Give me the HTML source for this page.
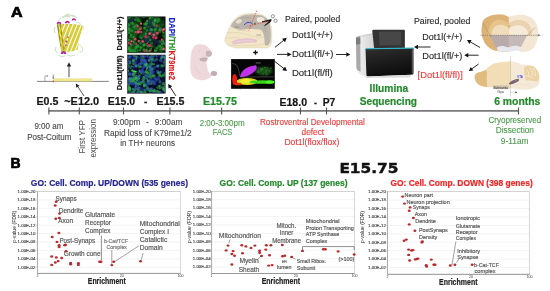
<!DOCTYPE html>
<html><head><meta charset="utf-8"><style>
html,body{margin:0;padding:0;background:#fff;}
svg{display:block;font-family:'Liberation Sans', Arial, sans-serif;}
</style></head><body>
<svg width="550" height="291" viewBox="0 0 550 291">
<rect width="550" height="291" fill="#fff"/>
<defs>
<filter id="bl" x="-5%" y="-5%" width="110%" height="110%"><feGaussianBlur stdDeviation="0.45"/></filter>
<filter id="bl2" x="-20%" y="-20%" width="140%" height="140%"><feGaussianBlur stdDeviation="1.2"/></filter>
<filter id="bl3" x="-20%" y="-20%" width="140%" height="140%"><feGaussianBlur stdDeviation="0.7"/></filter>
<clipPath id="cm1"><rect x="127.6" y="16.8" width="37.6" height="36.0"/></clipPath>
<clipPath id="cm2"><rect x="127.6" y="55.0" width="37.6" height="38.2"/></clipPath>
<clipPath id="cfl"><rect x="231.4" y="59.2" width="43" height="29.2"/></clipPath>
<linearGradient id="seqf" x1="0" y1="0" x2="0.3" y2="1"><stop offset="0" stop-color="#303030"/><stop offset="0.6" stop-color="#1a1a1a"/><stop offset="1" stop-color="#0e0e0e"/></linearGradient>
<linearGradient id="seqs" x1="0" y1="0" x2="1" y2="0"><stop offset="0" stop-color="#f4f4f4"/><stop offset="1" stop-color="#d0d0d0"/></linearGradient>
</defs>
<line x1="36.9" y1="81.4" x2="108.8" y2="81.4" stroke="#666" stroke-width="0.8"/>
<rect x="53.6" y="78.6" width="38.4" height="2.6" fill="#f0e68a" stroke="#e6dc9a" stroke-width="0.3"/>
<path d="M44.9,81.1 V76.0 H47.4" fill="none" stroke="#888" stroke-width="0.7"/>
<polygon points="48.4,76 46.9,75 46.9,77" fill="#888"/>
<line x1="53.2" y1="74.3" x2="53.2" y2="77.8" stroke="#333" stroke-width="0.5"/>
<polygon points="53.2,79 52.4,77.4 54,77.4" fill="#222"/>
<circle cx="53.3" cy="81.4" r="0.8" fill="#c04050"/>
<g><clipPath id="cgfp"><path d="M56.6,24.2 C63,23.2 74,23.8 83,25.4 L80,36 L77.6,49.8 C72,51.5 66,52.5 61.7,52.6 C59.8,44 58,34 56.6,24.2 Z"/></clipPath><path d="M58,22 q2,-5 6,-5 q3,-2 6,0" fill="none" stroke="#b8d8b0" stroke-width="0.75"/><path d="M62,17 q4,-3 8,-1 q3,-2 5,1" fill="none" stroke="#b8d8b0" stroke-width="0.75"/><path d="M66,14.5 q3,-1 5,1" fill="none" stroke="#b8d8b0" stroke-width="0.75"/><path d="M72,16 q3,-1 5,2" fill="none" stroke="#b8d8b0" stroke-width="0.75"/><path d="M76,22 q4,0 5,3" fill="none" stroke="#b8d8b0" stroke-width="0.75"/><path d="M55,27 q-2,3 0,6" fill="none" stroke="#b8d8b0" stroke-width="0.75"/><path d="M58,55 q3,3 7,1" fill="none" stroke="#b8d8b0" stroke-width="0.75"/><path d="M67,55 q4,2 8,0" fill="none" stroke="#b8d8b0" stroke-width="0.75"/><path d="M79.4,45 q4,2 3,6 q-1,2 -3,1" fill="none" stroke="#b8d8b0" stroke-width="0.75"/><path d="M56,47 q-2,3 1,6" fill="none" stroke="#b8d8b0" stroke-width="0.75"/><path d="M82,26 q2,1 1,4" fill="none" stroke="#b8d8b0" stroke-width="0.75"/><g clip-path="url(#cgfp)"><rect x="55" y="22" width="30" height="32" fill="#fcfbf2"/><path d="M56.6,24 l1.7,0 l4.6,29 l-1.7,0 Z" fill="#9c8e22"/><path d="M59.2,24 l1.7,0 l4.6,29 l-1.7,0 Z" fill="#9c8e22"/><path d="M50.5,53 l2.1,0 l11.5,-29 l-2.1,0 Z" fill="#e2d61e" stroke="#a39616" stroke-width="0.35"/><path d="M54.6,53 l2.1,0 l11.5,-29 l-2.1,0 Z" fill="#e2d61e" stroke="#a39616" stroke-width="0.35"/><path d="M58.7,53 l2.1,0 l11.5,-29 l-2.1,0 Z" fill="#e2d61e" stroke="#a39616" stroke-width="0.35"/><path d="M62.8,53 l2.1,0 l11.5,-29 l-2.1,0 Z" fill="#e2d61e" stroke="#a39616" stroke-width="0.35"/><path d="M66.9,53 l2.1,0 l11.5,-29 l-2.1,0 Z" fill="#e2d61e" stroke="#a39616" stroke-width="0.35"/><path d="M71.0,53 l2.1,0 l11.5,-29 l-2.1,0 Z" fill="#e2d61e" stroke="#a39616" stroke-width="0.35"/><path d="M75.1,53 l2.1,0 l11.5,-29 l-2.1,0 Z" fill="#e2d61e" stroke="#a39616" stroke-width="0.35"/><path d="M79.2,53 l2.1,0 l11.5,-29 l-2.1,0 Z" fill="#e2d61e" stroke="#a39616" stroke-width="0.35"/></g><path d="M57.5,24.0 a1.5,1.5 0 1,1 3.0,0" fill="none" stroke="#b020a0" stroke-width="1.65"/><path d="M65.7,23.2 a1.6,1.6 0 1,1 3.2,0" fill="none" stroke="#b020a0" stroke-width="1.76"/><path d="M72.4,20.4 a1.4,1.4 0 1,1 2.8,0" fill="none" stroke="#b020a0" stroke-width="1.54"/><path d="M61.9,54.0 a1.7,1.7 0 1,1 3.4,0" fill="none" stroke="#b020a0" stroke-width="1.87"/><circle cx="66.4" cy="41.5" r="0.9" fill="#b020a0"/><circle cx="68.0" cy="37.2" r="0.8" fill="#b020a0"/><circle cx="65.8" cy="45.2" r="0.8" fill="#b020a0"/><circle cx="67.5" cy="34.8" r="0.6" fill="#40c0c8"/></g>
<g clip-path="url(#cm1)"><rect x="127.6" y="16.8" width="37.6" height="36.0" fill="#08120a"/><g filter="url(#bl2)"><circle cx="144.5" cy="37.3" r="3.8" fill="#1d7a26" opacity="0.45"/><circle cx="145.1" cy="35.3" r="3.2" fill="#1d7a26" opacity="0.45"/><circle cx="133.6" cy="35.5" r="3.3" fill="#1d7a26" opacity="0.45"/><circle cx="158.5" cy="19.6" r="2.6" fill="#1d7a26" opacity="0.45"/><circle cx="129.7" cy="46.8" r="3.4" fill="#1d7a26" opacity="0.45"/><circle cx="127.7" cy="53.3" r="3.9" fill="#1d7a26" opacity="0.45"/><circle cx="152.8" cy="39.4" r="2.3" fill="#1d7a26" opacity="0.45"/><circle cx="126.6" cy="36.1" r="2.1" fill="#1d7a26" opacity="0.45"/><circle cx="133.8" cy="25.2" r="2.1" fill="#1d7a26" opacity="0.45"/><circle cx="145.0" cy="32.7" r="3.7" fill="#1d7a26" opacity="0.45"/><circle cx="147.3" cy="40.3" r="3.0" fill="#1d7a26" opacity="0.45"/><circle cx="153.2" cy="33.4" r="2.6" fill="#1d7a26" opacity="0.45"/><circle cx="166.9" cy="53.8" r="3.7" fill="#1d7a26" opacity="0.45"/><circle cx="155.0" cy="28.0" r="2.5" fill="#1d7a26" opacity="0.45"/><circle cx="137.9" cy="18.7" r="3.5" fill="#1d7a26" opacity="0.45"/><circle cx="142.4" cy="48.2" r="2.8" fill="#1d7a26" opacity="0.45"/><circle cx="165.3" cy="48.2" r="2.0" fill="#1d7a26" opacity="0.45"/><circle cx="134.6" cy="50.6" r="2.9" fill="#1d7a26" opacity="0.45"/><circle cx="166.2" cy="31.1" r="2.1" fill="#1d7a26" opacity="0.45"/><circle cx="151.8" cy="45.6" r="2.5" fill="#1d7a26" opacity="0.45"/><circle cx="129.6" cy="28.6" r="3.9" fill="#1d7a26" opacity="0.45"/><circle cx="157.1" cy="20.5" r="2.5" fill="#1d7a26" opacity="0.45"/><circle cx="130.1" cy="18.3" r="3.6" fill="#1d7a26" opacity="0.45"/><circle cx="133.3" cy="37.3" r="2.9" fill="#1d7a26" opacity="0.45"/><circle cx="133.8" cy="43.8" r="2.3" fill="#1d7a26" opacity="0.45"/><circle cx="152.4" cy="20.4" r="2.8" fill="#1d7a26" opacity="0.45"/><circle cx="134.7" cy="26.3" r="3.9" fill="#1d7a26" opacity="0.45"/><circle cx="158.9" cy="27.6" r="3.8" fill="#1d7a26" opacity="0.45"/><circle cx="134.6" cy="31.0" r="3.7" fill="#1d7a26" opacity="0.45"/><circle cx="152.3" cy="19.8" r="4.0" fill="#1d7a26" opacity="0.45"/><circle cx="134.7" cy="25.8" r="3.5" fill="#1d7a26" opacity="0.45"/><circle cx="139.5" cy="27.3" r="2.1" fill="#1d7a26" opacity="0.45"/><circle cx="129.7" cy="38.1" r="2.5" fill="#1d7a26" opacity="0.45"/><circle cx="150.7" cy="30.1" r="2.9" fill="#1d7a26" opacity="0.45"/><circle cx="165.3" cy="34.4" r="3.1" fill="#1d7a26" opacity="0.45"/><circle cx="161.5" cy="22.9" r="2.3" fill="#1d7a26" opacity="0.45"/><circle cx="163.2" cy="47.1" r="2.5" fill="#1d7a26" opacity="0.45"/><circle cx="133.8" cy="44.1" r="3.9" fill="#1d7a26" opacity="0.45"/><circle cx="134.1" cy="52.1" r="3.8" fill="#1d7a26" opacity="0.45"/><circle cx="150.7" cy="32.0" r="2.2" fill="#1d7a26" opacity="0.45"/></g><g filter="url(#bl)"><circle cx="131.3" cy="44.1" r="1.9" fill="#1c2060" opacity="0.55"/><circle cx="153.3" cy="26.4" r="2.7" fill="#1c2060" opacity="0.55"/><circle cx="149.7" cy="27.3" r="1.8" fill="#1c2060" opacity="0.55"/><circle cx="153.8" cy="21.7" r="1.8" fill="#1c2060" opacity="0.55"/><circle cx="148.5" cy="41.3" r="2.4" fill="#1c2060" opacity="0.55"/><circle cx="139.2" cy="42.9" r="1.8" fill="#1c2060" opacity="0.55"/><circle cx="130.5" cy="26.7" r="2.2" fill="#1c2060" opacity="0.55"/><circle cx="132.0" cy="24.4" r="2.1" fill="#1c2060" opacity="0.55"/><circle cx="148.9" cy="23.3" r="2.0" fill="#1c2060" opacity="0.55"/><circle cx="159.4" cy="44.5" r="2.5" fill="#1c2060" opacity="0.55"/><circle cx="152.8" cy="34.6" r="1.7" fill="#1c2060" opacity="0.55"/><circle cx="131.2" cy="20.4" r="2.9" fill="#1c2060" opacity="0.55"/><circle cx="153.1" cy="44.1" r="1.5" fill="#1c2060" opacity="0.55"/><circle cx="151.0" cy="32.1" r="2.6" fill="#1c2060" opacity="0.55"/><circle cx="140.5" cy="45.0" r="1.6" fill="#1c2060" opacity="0.55"/><circle cx="148.0" cy="38.4" r="2.9" fill="#1c2060" opacity="0.55"/><circle cx="154.3" cy="37.6" r="2.7" fill="#1c2060" opacity="0.55"/><circle cx="160.2" cy="28.8" r="2.5" fill="#1c2060" opacity="0.55"/><circle cx="159.7" cy="41.8" r="2.1" fill="#1c2060" opacity="0.55"/><circle cx="156.1" cy="41.6" r="2.4" fill="#1c2060" opacity="0.55"/><circle cx="150.6" cy="29.6" r="2.4" fill="#1c2060" opacity="0.55"/><circle cx="150.1" cy="22.0" r="2.5" fill="#1c2060" opacity="0.55"/><circle cx="162.8" cy="42.0" r="2.6" fill="#1c2060" opacity="0.55"/><circle cx="142.8" cy="38.4" r="2.4" fill="#1c2060" opacity="0.55"/><circle cx="144.5" cy="41.0" r="1.6" fill="#1c2060" opacity="0.55"/><circle cx="154.8" cy="20.7" r="2.4" fill="#1c2060" opacity="0.55"/><circle cx="145.9" cy="25.8" r="2.5" fill="#1c2060" opacity="0.55"/><circle cx="146.4" cy="35.4" r="2.9" fill="#1c2060" opacity="0.55"/><circle cx="138.4" cy="20.3" r="2.0" fill="#1c2060" opacity="0.55"/><circle cx="152.4" cy="25.1" r="1.8" fill="#1c2060" opacity="0.55"/><circle cx="163.1" cy="41.1" r="1.1" fill="#2a9e34" opacity="0.70"/><circle cx="134.1" cy="32.4" r="1.1" fill="#1b6e22" opacity="0.66"/><circle cx="139.0" cy="21.2" r="1.5" fill="#2a9e34" opacity="0.83"/><circle cx="137.3" cy="22.4" r="1.7" fill="#0e3a12" opacity="0.77"/><circle cx="141.7" cy="35.8" r="1.6" fill="#124a16" opacity="0.68"/><circle cx="139.1" cy="47.5" r="0.7" fill="#124a16" opacity="0.72"/><circle cx="149.4" cy="27.7" r="1.1" fill="#175c1c" opacity="0.49"/><circle cx="157.5" cy="26.1" r="1.8" fill="#1b6e22" opacity="0.45"/><circle cx="130.5" cy="36.3" r="0.9" fill="#124a16" opacity="0.61"/><circle cx="133.3" cy="16.4" r="1.0" fill="#2a9e34" opacity="0.56"/><circle cx="154.6" cy="35.8" r="1.7" fill="#23902c" opacity="0.44"/><circle cx="164.2" cy="43.5" r="1.4" fill="#2a9e34" opacity="0.81"/><circle cx="141.4" cy="37.6" r="1.8" fill="#23902c" opacity="0.44"/><circle cx="161.5" cy="46.3" r="1.8" fill="#30b03a" opacity="0.84"/><circle cx="148.0" cy="46.0" r="1.6" fill="#23902c" opacity="0.56"/><circle cx="129.4" cy="32.8" r="0.9" fill="#2a9e34" opacity="0.79"/><circle cx="143.6" cy="17.3" r="1.2" fill="#124a16" opacity="0.85"/><circle cx="162.9" cy="35.7" r="0.8" fill="#23902c" opacity="0.50"/><circle cx="147.6" cy="27.0" r="1.6" fill="#1b6e22" opacity="0.65"/><circle cx="138.8" cy="30.5" r="1.8" fill="#2a9e34" opacity="0.64"/><circle cx="149.5" cy="23.6" r="1.4" fill="#175c1c" opacity="0.41"/><circle cx="165.7" cy="35.6" r="0.8" fill="#0e3a12" opacity="0.44"/><circle cx="132.8" cy="51.4" r="1.0" fill="#30b03a" opacity="0.61"/><circle cx="131.2" cy="32.5" r="0.8" fill="#0e3a12" opacity="0.59"/><circle cx="127.2" cy="25.9" r="0.9" fill="#2a9e34" opacity="0.71"/><circle cx="139.2" cy="29.5" r="1.3" fill="#23902c" opacity="0.78"/><circle cx="151.6" cy="43.3" r="1.2" fill="#23902c" opacity="0.64"/><circle cx="132.5" cy="23.8" r="1.6" fill="#1b6e22" opacity="0.68"/><circle cx="161.1" cy="24.8" r="1.0" fill="#124a16" opacity="0.54"/><circle cx="163.8" cy="24.3" r="0.8" fill="#2a9e34" opacity="0.44"/><circle cx="141.9" cy="32.5" r="1.5" fill="#0e3a12" opacity="0.49"/><circle cx="151.7" cy="46.4" r="1.1" fill="#23902c" opacity="0.77"/><circle cx="140.8" cy="42.8" r="1.6" fill="#23902c" opacity="0.76"/><circle cx="145.8" cy="16.9" r="0.8" fill="#2a9e34" opacity="0.48"/><circle cx="132.5" cy="26.8" r="0.8" fill="#175c1c" opacity="0.71"/><circle cx="129.2" cy="19.7" r="1.2" fill="#0e3a12" opacity="0.67"/><circle cx="126.5" cy="42.6" r="1.1" fill="#30b03a" opacity="0.57"/><circle cx="163.8" cy="39.0" r="1.1" fill="#2a9e34" opacity="0.44"/><circle cx="160.5" cy="49.3" r="1.3" fill="#2a9e34" opacity="0.84"/><circle cx="159.0" cy="25.8" r="1.6" fill="#175c1c" opacity="0.77"/><circle cx="142.6" cy="50.1" r="1.1" fill="#124a16" opacity="0.73"/><circle cx="128.9" cy="29.0" r="1.8" fill="#30b03a" opacity="0.81"/><circle cx="128.0" cy="26.4" r="1.1" fill="#23902c" opacity="0.48"/><circle cx="129.2" cy="35.6" r="1.5" fill="#0e3a12" opacity="0.84"/><circle cx="126.9" cy="39.4" r="1.3" fill="#30b03a" opacity="0.74"/><circle cx="152.6" cy="16.4" r="1.3" fill="#30b03a" opacity="0.63"/><circle cx="165.7" cy="37.6" r="0.8" fill="#175c1c" opacity="0.67"/><circle cx="157.1" cy="17.7" r="1.6" fill="#1b6e22" opacity="0.64"/><circle cx="150.5" cy="32.3" r="1.1" fill="#23902c" opacity="0.54"/><circle cx="147.7" cy="34.4" r="1.0" fill="#124a16" opacity="0.72"/><circle cx="138.1" cy="16.5" r="1.1" fill="#1b6e22" opacity="0.71"/><circle cx="128.2" cy="28.0" r="1.7" fill="#23902c" opacity="0.43"/><circle cx="163.1" cy="32.3" r="0.7" fill="#2a9e34" opacity="0.44"/><circle cx="159.2" cy="50.6" r="1.4" fill="#1b6e22" opacity="0.45"/><circle cx="151.6" cy="33.3" r="1.1" fill="#1b6e22" opacity="0.47"/><circle cx="140.9" cy="21.3" r="1.0" fill="#0e3a12" opacity="0.66"/><circle cx="143.2" cy="45.6" r="1.5" fill="#1b6e22" opacity="0.51"/><circle cx="130.7" cy="49.9" r="1.5" fill="#23902c" opacity="0.65"/><circle cx="150.3" cy="40.1" r="1.3" fill="#2a9e34" opacity="0.69"/><circle cx="134.0" cy="42.0" r="1.2" fill="#30b03a" opacity="0.68"/><circle cx="130.2" cy="36.6" r="0.9" fill="#175c1c" opacity="0.51"/><circle cx="166.2" cy="34.4" r="1.2" fill="#30b03a" opacity="0.46"/><circle cx="161.7" cy="46.5" r="1.4" fill="#0e3a12" opacity="0.75"/><circle cx="134.7" cy="32.1" r="1.1" fill="#2a9e34" opacity="0.69"/><circle cx="166.6" cy="28.4" r="1.3" fill="#30b03a" opacity="0.61"/><circle cx="139.3" cy="36.7" r="1.2" fill="#0e3a12" opacity="0.71"/><circle cx="138.3" cy="45.5" r="1.4" fill="#23902c" opacity="0.71"/><circle cx="146.3" cy="45.0" r="0.9" fill="#2a9e34" opacity="0.70"/><circle cx="139.4" cy="50.4" r="1.7" fill="#124a16" opacity="0.82"/><circle cx="163.4" cy="32.6" r="1.1" fill="#2a9e34" opacity="0.82"/><circle cx="162.7" cy="25.4" r="1.1" fill="#23902c" opacity="0.57"/><circle cx="134.0" cy="37.4" r="1.3" fill="#23902c" opacity="0.48"/><circle cx="157.1" cy="49.5" r="0.9" fill="#124a16" opacity="0.43"/><circle cx="132.5" cy="27.2" r="1.6" fill="#175c1c" opacity="0.43"/><circle cx="148.4" cy="45.9" r="1.5" fill="#30b03a" opacity="0.80"/><circle cx="129.5" cy="40.1" r="1.2" fill="#23902c" opacity="0.72"/><circle cx="146.0" cy="50.5" r="1.6" fill="#30b03a" opacity="0.55"/><circle cx="131.6" cy="34.5" r="1.7" fill="#175c1c" opacity="0.58"/><circle cx="159.9" cy="41.3" r="1.6" fill="#175c1c" opacity="0.80"/><circle cx="165.3" cy="40.3" r="1.2" fill="#124a16" opacity="0.59"/><circle cx="132.0" cy="44.2" r="1.1" fill="#0e3a12" opacity="0.58"/><circle cx="147.7" cy="26.4" r="1.5" fill="#175c1c" opacity="0.54"/><circle cx="132.4" cy="50.9" r="1.7" fill="#30b03a" opacity="0.42"/><circle cx="130.5" cy="23.0" r="1.2" fill="#1b6e22" opacity="0.63"/><circle cx="144.1" cy="50.0" r="1.4" fill="#30b03a" opacity="0.82"/><circle cx="148.6" cy="48.4" r="1.7" fill="#0e3a12" opacity="0.55"/><circle cx="148.4" cy="52.4" r="1.7" fill="#2a9e34" opacity="0.76"/><circle cx="141.8" cy="36.0" r="0.8" fill="#124a16" opacity="0.82"/><circle cx="162.6" cy="49.2" r="1.5" fill="#2a9e34" opacity="0.67"/><circle cx="132.4" cy="22.0" r="0.8" fill="#23902c" opacity="0.73"/><circle cx="151.4" cy="35.6" r="0.7" fill="#2a9e34" opacity="0.77"/><circle cx="160.7" cy="47.2" r="1.5" fill="#23902c" opacity="0.44"/><circle cx="145.7" cy="33.8" r="1.2" fill="#2a9e34" opacity="0.81"/><circle cx="129.7" cy="47.4" r="1.3" fill="#30b03a" opacity="0.47"/><circle cx="160.1" cy="27.8" r="1.0" fill="#23902c" opacity="0.61"/><circle cx="155.3" cy="29.7" r="1.4" fill="#30b03a" opacity="0.74"/><circle cx="158.2" cy="20.6" r="1.5" fill="#30b03a" opacity="0.61"/><circle cx="138.0" cy="20.3" r="1.6" fill="#175c1c" opacity="0.72"/><circle cx="163.0" cy="21.8" r="1.7" fill="#0e3a12" opacity="0.74"/><circle cx="148.8" cy="19.3" r="0.8" fill="#23902c" opacity="0.54"/><circle cx="137.2" cy="33.9" r="0.8" fill="#30b03a" opacity="0.46"/><circle cx="129.9" cy="41.8" r="0.7" fill="#30b03a" opacity="0.61"/><circle cx="154.9" cy="19.8" r="1.2" fill="#2a9e34" opacity="0.75"/><circle cx="140.0" cy="47.3" r="1.5" fill="#1b6e22" opacity="0.77"/><circle cx="141.8" cy="28.6" r="1.5" fill="#0e3a12" opacity="0.68"/><circle cx="139.0" cy="46.0" r="1.4" fill="#1b6e22" opacity="0.41"/><circle cx="139.6" cy="29.0" r="0.9" fill="#30b03a" opacity="0.55"/><circle cx="138.0" cy="19.9" r="1.7" fill="#23902c" opacity="0.65"/><circle cx="140.5" cy="35.0" r="0.9" fill="#1b6e22" opacity="0.82"/><circle cx="166.9" cy="42.9" r="1.4" fill="#2a9e34" opacity="0.49"/><circle cx="129.4" cy="25.3" r="1.0" fill="#30b03a" opacity="0.80"/><circle cx="144.5" cy="43.7" r="1.3" fill="#1b6e22" opacity="0.65"/><circle cx="149.0" cy="26.0" r="0.8" fill="#124a16" opacity="0.77"/><circle cx="137.8" cy="50.1" r="0.9" fill="#2a9e34" opacity="0.65"/><circle cx="129.1" cy="17.2" r="1.8" fill="#1b6e22" opacity="0.46"/><circle cx="157.0" cy="48.2" r="1.6" fill="#23902c" opacity="0.41"/><circle cx="134.2" cy="33.8" r="0.8" fill="#1b6e22" opacity="0.58"/><circle cx="139.8" cy="21.0" r="1.1" fill="#1b6e22" opacity="0.69"/><circle cx="127.6" cy="41.5" r="1.4" fill="#30b03a" opacity="0.61"/><circle cx="142.9" cy="39.7" r="1.2" fill="#0e3a12" opacity="0.85"/><circle cx="160.4" cy="48.5" r="0.8" fill="#0e3a12" opacity="0.45"/><circle cx="164.5" cy="28.6" r="1.1" fill="#2a9e34" opacity="0.42"/><circle cx="155.7" cy="50.2" r="1.7" fill="#30b03a" opacity="0.79"/><circle cx="136.0" cy="48.1" r="1.8" fill="#30b03a" opacity="0.61"/><circle cx="130.3" cy="50.6" r="1.7" fill="#2a9e34" opacity="0.85"/><circle cx="156.0" cy="49.1" r="1.2" fill="#124a16" opacity="0.76"/><circle cx="135.1" cy="44.4" r="0.8" fill="#175c1c" opacity="0.76"/><circle cx="131.1" cy="36.4" r="1.5" fill="#2a9e34" opacity="0.41"/><circle cx="133.1" cy="32.7" r="1.1" fill="#0e3a12" opacity="0.56"/><circle cx="150.0" cy="17.7" r="1.2" fill="#30b03a" opacity="0.82"/><circle cx="166.1" cy="34.0" r="1.7" fill="#23902c" opacity="0.49"/><circle cx="160.4" cy="29.5" r="1.7" fill="#23902c" opacity="0.85"/><circle cx="134.3" cy="40.0" r="1.8" fill="#1b6e22" opacity="0.69"/><circle cx="138.5" cy="47.1" r="1.5" fill="#124a16" opacity="0.46"/><circle cx="154.5" cy="51.6" r="0.9" fill="#2a9e34" opacity="0.54"/><circle cx="155.1" cy="23.5" r="1.3" fill="#1b6e22" opacity="0.53"/><circle cx="137.2" cy="46.5" r="1.8" fill="#2a9e34" opacity="0.80"/><circle cx="133.4" cy="24.6" r="0.8" fill="#1b6e22" opacity="0.84"/><circle cx="144.1" cy="36.1" r="1.0" fill="#23902c" opacity="0.51"/><circle cx="158.9" cy="19.3" r="1.0" fill="#2a9e34" opacity="0.65"/><circle cx="133.6" cy="50.1" r="1.1" fill="#23902c" opacity="0.82"/><circle cx="146.5" cy="22.8" r="1.6" fill="#30b03a" opacity="0.63"/><circle cx="146.7" cy="48.1" r="0.8" fill="#2a9e34" opacity="0.60"/><circle cx="153.4" cy="36.8" r="1.6" fill="#124a16" opacity="0.51"/><circle cx="146.1" cy="24.4" r="1.4" fill="#2a9e34" opacity="0.72"/><circle cx="149.5" cy="49.2" r="0.7" fill="#23902c" opacity="0.62"/><circle cx="143.8" cy="32.8" r="0.7" fill="#124a16" opacity="0.45"/><circle cx="133.3" cy="40.3" r="0.8" fill="#1b6e22" opacity="0.59"/><circle cx="154.5" cy="47.1" r="1.2" fill="#124a16" opacity="0.69"/><circle cx="146.9" cy="30.4" r="1.4" fill="#23902c" opacity="0.67"/><circle cx="144.6" cy="28.0" r="1.5" fill="#2a9e34" opacity="0.83"/><circle cx="131.3" cy="44.7" r="1.3" fill="#30b03a" opacity="0.84"/><circle cx="126.1" cy="31.6" r="1.0" fill="#23902c" opacity="0.59"/><circle cx="129.1" cy="17.3" r="1.3" fill="#2a9e34" opacity="0.51"/><circle cx="144.9" cy="51.4" r="0.9" fill="#23902c" opacity="0.47"/><circle cx="150.0" cy="53.8" r="1.7" fill="#23902c" opacity="0.48"/><circle cx="161.3" cy="51.5" r="0.9" fill="#2a9e34" opacity="0.56"/><circle cx="133.5" cy="36.9" r="0.9" fill="#30b03a" opacity="0.61"/><circle cx="138.7" cy="33.0" r="0.9" fill="#1b6e22" opacity="0.57"/><circle cx="129.0" cy="42.3" r="1.3" fill="#124a16" opacity="0.73"/><circle cx="147.0" cy="37.6" r="0.8" fill="#30b03a" opacity="0.73"/><circle cx="157.9" cy="21.2" r="1.7" fill="#1b6e22" opacity="0.41"/><circle cx="139.2" cy="30.6" r="1.1" fill="#175c1c" opacity="0.52"/><circle cx="162.0" cy="41.4" r="1.2" fill="#2a9e34" opacity="0.48"/><circle cx="147.1" cy="20.9" r="1.2" fill="#30b03a" opacity="0.71"/><circle cx="147.2" cy="36.8" r="1.4" fill="#124a16" opacity="0.47"/><circle cx="134.4" cy="26.7" r="1.3" fill="#30b03a" opacity="0.56"/><circle cx="130.2" cy="30.1" r="1.5" fill="#2a9e34" opacity="0.62"/><circle cx="126.5" cy="44.9" r="1.3" fill="#2a9e34" opacity="0.56"/><circle cx="131.0" cy="45.4" r="1.0" fill="#23902c" opacity="0.76"/><circle cx="130.9" cy="34.7" r="1.0" fill="#30b03a" opacity="0.72"/><circle cx="135.1" cy="51.2" r="1.1" fill="#2a9e34" opacity="0.72"/><circle cx="147.3" cy="44.2" r="1.2" fill="#0e3a12" opacity="0.52"/><circle cx="161.0" cy="27.7" r="0.8" fill="#175c1c" opacity="0.81"/><circle cx="163.4" cy="26.3" r="1.2" fill="#0e3a12" opacity="0.55"/><circle cx="136.4" cy="16.9" r="1.3" fill="#30b03a" opacity="0.52"/><circle cx="153.4" cy="23.1" r="1.8" fill="#30b03a" opacity="0.56"/><circle cx="149.6" cy="51.8" r="1.3" fill="#23902c" opacity="0.68"/><circle cx="128.6" cy="18.6" r="0.7" fill="#30b03a" opacity="0.46"/><circle cx="146.8" cy="27.7" r="0.7" fill="#124a16" opacity="0.67"/><circle cx="137.1" cy="25.8" r="1.7" fill="#2a9e34" opacity="0.84"/><circle cx="126.1" cy="36.8" r="1.6" fill="#175c1c" opacity="0.84"/><circle cx="139.7" cy="29.2" r="0.9" fill="#23902c" opacity="0.58"/><circle cx="132.4" cy="23.3" r="1.5" fill="#23902c" opacity="0.76"/><circle cx="138.0" cy="31.8" r="1.3" fill="#124a16" opacity="0.51"/><circle cx="136.2" cy="28.3" r="1.5" fill="#1b6e22" opacity="0.79"/><circle cx="166.6" cy="47.1" r="1.3" fill="#30b03a" opacity="0.71"/><circle cx="127.7" cy="39.6" r="1.1" fill="#30b03a" opacity="0.73"/><circle cx="154.4" cy="25.6" r="1.1" fill="#23902c" opacity="0.55"/><circle cx="157.1" cy="48.0" r="1.4" fill="#30b03a" opacity="0.46"/><circle cx="156.4" cy="26.2" r="1.4" fill="#30b03a" opacity="0.53"/><circle cx="152.7" cy="53.0" r="1.0" fill="#2a9e34" opacity="0.52"/><circle cx="136.3" cy="41.3" r="1.8" fill="#0e3a12" opacity="0.42"/><circle cx="155.2" cy="20.5" r="1.5" fill="#30b03a" opacity="0.85"/><circle cx="130.9" cy="28.5" r="1.6" fill="#175c1c" opacity="0.48"/><circle cx="128.8" cy="32.7" r="1.4" fill="#23902c" opacity="0.74"/><circle cx="166.2" cy="30.8" r="0.9" fill="#1b6e22" opacity="0.48"/><circle cx="130.4" cy="51.5" r="1.1" fill="#2a9e34" opacity="0.41"/><circle cx="149.2" cy="21.5" r="0.8" fill="#2a9e34" opacity="0.49"/><circle cx="148.6" cy="37.2" r="1.4" fill="#30b03a" opacity="0.40"/><circle cx="139.8" cy="21.3" r="1.1" fill="#1b6e22" opacity="0.41"/><circle cx="140.4" cy="37.3" r="1.4" fill="#23902c" opacity="0.68"/><circle cx="137.4" cy="51.7" r="0.8" fill="#23902c" opacity="0.79"/><circle cx="164.7" cy="36.5" r="1.5" fill="#2a9e34" opacity="0.54"/><circle cx="147.1" cy="16.4" r="0.7" fill="#30b03a" opacity="0.64"/><circle cx="159.2" cy="46.1" r="1.6" fill="#23902c" opacity="0.75"/><circle cx="166.4" cy="19.8" r="1.0" fill="#0e3a12" opacity="0.81"/><circle cx="127.0" cy="37.9" r="1.1" fill="#23902c" opacity="0.70"/><circle cx="159.2" cy="29.9" r="0.8" fill="#30b03a" opacity="0.69"/><circle cx="150.4" cy="26.1" r="0.9" fill="#1b6e22" opacity="0.73"/><circle cx="148.4" cy="41.8" r="0.9" fill="#2a9e34" opacity="0.56"/><circle cx="143.7" cy="16.4" r="1.6" fill="#23902c" opacity="0.74"/><circle cx="126.9" cy="22.6" r="1.2" fill="#30b03a" opacity="0.83"/><circle cx="135.0" cy="31.5" r="0.8" fill="#1b6e22" opacity="0.58"/><circle cx="163.8" cy="49.5" r="0.9" fill="#2a9e34" opacity="0.69"/><circle cx="141.5" cy="40.5" r="1.1" fill="#1b6e22" opacity="0.60"/><circle cx="155.3" cy="32.1" r="1.5" fill="#23902c" opacity="0.60"/><circle cx="153.3" cy="31.9" r="1.1" fill="#0e3a12" opacity="0.64"/><circle cx="127.7" cy="51.0" r="0.8" fill="#23902c" opacity="0.42"/><circle cx="139.3" cy="36.4" r="1.5" fill="#124a16" opacity="0.54"/><circle cx="156.2" cy="53.6" r="1.5" fill="#2a9e34" opacity="0.80"/><circle cx="130.6" cy="23.1" r="1.3" fill="#1b6e22" opacity="0.85"/><circle cx="128.7" cy="49.1" r="1.2" fill="#30b03a" opacity="0.64"/><circle cx="161.5" cy="23.4" r="1.0" fill="#124a16" opacity="0.45"/><circle cx="144.1" cy="44.8" r="1.6" fill="#30b03a" opacity="0.75"/><circle cx="148.5" cy="50.4" r="0.7" fill="#30b03a" opacity="0.56"/><circle cx="161.5" cy="47.7" r="1.1" fill="#23902c" opacity="0.78"/><circle cx="151.3" cy="50.3" r="0.9" fill="#23902c" opacity="0.68"/><circle cx="161.9" cy="43.7" r="1.1" fill="#30b03a" opacity="0.77"/><circle cx="154.7" cy="48.1" r="0.9" fill="#124a16" opacity="0.49"/><circle cx="157.4" cy="22.5" r="0.8" fill="#30b03a" opacity="0.82"/><circle cx="151.0" cy="29.6" r="1.5" fill="#2a9e34" opacity="0.73"/><circle cx="140.8" cy="27.8" r="1.4" fill="#2a9e34" opacity="0.59"/><circle cx="159.6" cy="31.5" r="1.7" fill="#2a9e34" opacity="0.56"/><circle cx="154.8" cy="24.9" r="1.7" fill="#30b03a" opacity="0.44"/><circle cx="152.6" cy="24.6" r="1.2" fill="#23902c" opacity="0.50"/><circle cx="152.2" cy="29.9" r="1.4" fill="#30b03a" opacity="0.52"/><circle cx="153.1" cy="16.5" r="0.8" fill="#30b03a" opacity="0.80"/><circle cx="136.3" cy="32.0" r="0.8" fill="#23902c" opacity="0.70"/><circle cx="144.6" cy="24.0" r="1.5" fill="#2a9e34" opacity="0.70"/><circle cx="140.1" cy="50.1" r="1.1" fill="#2a9e34" opacity="0.61"/><circle cx="139.0" cy="41.5" r="1.8" fill="#175c1c" opacity="0.85"/><circle cx="142.2" cy="47.5" r="0.8" fill="#175c1c" opacity="0.61"/><circle cx="142.5" cy="40.9" r="0.9" fill="#23902c" opacity="0.57"/><circle cx="131.9" cy="31.0" r="1.5" fill="#23902c" opacity="0.75"/><circle cx="163.2" cy="41.2" r="0.9" fill="#30b03a" opacity="0.57"/><circle cx="141.0" cy="47.6" r="1.3" fill="#30b03a" opacity="0.64"/><circle cx="130.6" cy="46.0" r="0.8" fill="#124a16" opacity="0.51"/><circle cx="153.2" cy="35.4" r="1.0" fill="#2a9e34" opacity="0.59"/><circle cx="128.2" cy="24.3" r="1.2" fill="#2a9e34" opacity="0.78"/><circle cx="130.3" cy="48.3" r="1.3" fill="#23902c" opacity="0.58"/><circle cx="151.1" cy="48.8" r="1.0" fill="#2a9e34" opacity="0.76"/><circle cx="130.5" cy="44.0" r="1.4" fill="#23902c" opacity="0.58"/><circle cx="146.2" cy="50.7" r="0.8" fill="#30b03a" opacity="0.52"/><circle cx="130.6" cy="50.9" r="1.7" fill="#23902c" opacity="0.66"/><circle cx="146.5" cy="50.3" r="1.5" fill="#30b03a" opacity="0.52"/><circle cx="141.1" cy="32.3" r="1.2" fill="#23902c" opacity="0.60"/><circle cx="128.0" cy="47.8" r="1.3" fill="#30b03a" opacity="0.58"/><circle cx="135.1" cy="19.8" r="1.2" fill="#30b03a" opacity="0.50"/><circle cx="156.7" cy="34.5" r="1.8" fill="#23902c" opacity="0.40"/><circle cx="149.9" cy="50.7" r="1.6" fill="#6a1a2a" opacity="0.6"/><circle cx="149.9" cy="50.7" r="1.1" fill="#d63c5e" opacity="0.96"/><circle cx="136.1" cy="43.9" r="1.4" fill="#6a1a2a" opacity="0.6"/><circle cx="136.1" cy="43.9" r="0.9" fill="#ec5a7a" opacity="0.87"/><circle cx="147.1" cy="43.6" r="1.4" fill="#6a1a2a" opacity="0.6"/><circle cx="147.1" cy="43.6" r="0.9" fill="#e24a6e" opacity="0.80"/><circle cx="149.7" cy="45.5" r="2.0" fill="#6a1a2a" opacity="0.6"/><circle cx="149.7" cy="45.5" r="1.5" fill="#d63c5e" opacity="0.85"/><circle cx="138.8" cy="41.1" r="1.5" fill="#6a1a2a" opacity="0.6"/><circle cx="138.8" cy="41.1" r="1.0" fill="#ec5a7a" opacity="0.96"/><circle cx="140.3" cy="28.8" r="1.9" fill="#6a1a2a" opacity="0.6"/><circle cx="140.3" cy="28.8" r="1.4" fill="#d63c5e" opacity="0.91"/><circle cx="130.5" cy="44.0" r="1.4" fill="#6a1a2a" opacity="0.6"/><circle cx="130.5" cy="44.0" r="0.9" fill="#e24a6e" opacity="0.89"/><circle cx="161.9" cy="39.7" r="1.4" fill="#6a1a2a" opacity="0.6"/><circle cx="161.9" cy="39.7" r="0.9" fill="#ec5a7a" opacity="0.89"/><circle cx="128.7" cy="43.1" r="1.7" fill="#6a1a2a" opacity="0.6"/><circle cx="128.7" cy="43.1" r="1.2" fill="#e24a6e" opacity="0.79"/><circle cx="131.5" cy="41.3" r="1.5" fill="#6a1a2a" opacity="0.6"/><circle cx="131.5" cy="41.3" r="1.0" fill="#f0708a" opacity="0.92"/><circle cx="157.3" cy="33.1" r="1.9" fill="#6a1a2a" opacity="0.6"/><circle cx="157.3" cy="33.1" r="1.4" fill="#e24a6e" opacity="0.96"/><circle cx="162.9" cy="30.1" r="1.9" fill="#6a1a2a" opacity="0.6"/><circle cx="162.9" cy="30.1" r="1.4" fill="#e24a6e" opacity="0.93"/><circle cx="142.8" cy="41.5" r="1.8" fill="#6a1a2a" opacity="0.6"/><circle cx="142.8" cy="41.5" r="1.3" fill="#e24a6e" opacity="0.98"/><circle cx="136.1" cy="32.1" r="1.7" fill="#6a1a2a" opacity="0.6"/><circle cx="136.1" cy="32.1" r="1.2" fill="#e24a6e" opacity="0.79"/><circle cx="138.4" cy="31.9" r="1.9" fill="#6a1a2a" opacity="0.6"/><circle cx="138.4" cy="31.9" r="1.4" fill="#f0708a" opacity="0.80"/><circle cx="153.8" cy="34.8" r="1.7" fill="#6a1a2a" opacity="0.6"/><circle cx="153.8" cy="34.8" r="1.2" fill="#f0708a" opacity="0.88"/><circle cx="145.8" cy="36.7" r="1.9" fill="#6a1a2a" opacity="0.6"/><circle cx="145.8" cy="36.7" r="1.4" fill="#d63c5e" opacity="0.80"/><circle cx="141.0" cy="23.6" r="1.6" fill="#6a1a2a" opacity="0.6"/><circle cx="141.0" cy="23.6" r="1.1" fill="#f0708a" opacity="0.86"/><circle cx="149.7" cy="33.7" r="1.9" fill="#6a1a2a" opacity="0.6"/><circle cx="149.7" cy="33.7" r="1.4" fill="#ec5a7a" opacity="0.87"/><circle cx="163.8" cy="29.2" r="1.8" fill="#6a1a2a" opacity="0.6"/><circle cx="163.8" cy="29.2" r="1.3" fill="#ec5a7a" opacity="0.91"/><circle cx="141.1" cy="32.0" r="1.4" fill="#6a1a2a" opacity="0.6"/><circle cx="141.1" cy="32.0" r="0.9" fill="#e24a6e" opacity="0.95"/><circle cx="137.7" cy="26.3" r="1.5" fill="#6a1a2a" opacity="0.6"/><circle cx="137.7" cy="26.3" r="1.0" fill="#e24a6e" opacity="0.89"/><circle cx="163.6" cy="48.9" r="1.7" fill="#6a1a2a" opacity="0.6"/><circle cx="163.6" cy="48.9" r="1.2" fill="#f0708a" opacity="0.78"/><circle cx="135.2" cy="39.1" r="1.8" fill="#6a1a2a" opacity="0.6"/><circle cx="135.2" cy="39.1" r="1.3" fill="#ec5a7a" opacity="0.76"/><circle cx="153.6" cy="37.3" r="1.7" fill="#6a1a2a" opacity="0.6"/><circle cx="153.6" cy="37.3" r="1.2" fill="#d63c5e" opacity="0.87"/><circle cx="144.6" cy="51.0" r="1.6" fill="#6a1a2a" opacity="0.6"/><circle cx="144.6" cy="51.0" r="1.1" fill="#d63c5e" opacity="0.77"/><circle cx="156.7" cy="25.4" r="1.5" fill="#6a1a2a" opacity="0.6"/><circle cx="156.7" cy="25.4" r="1.0" fill="#d63c5e" opacity="0.78"/><circle cx="156.0" cy="37.8" r="1.9" fill="#6a1a2a" opacity="0.6"/><circle cx="156.0" cy="37.8" r="1.4" fill="#d63c5e" opacity="0.92"/></g></g><rect x="127.6" y="16.8" width="37.6" height="36.0" fill="none" stroke="#111" stroke-width="0.6"/><g clip-path="url(#cm2)"><rect x="127.6" y="55.0" width="37.6" height="38.2" fill="#0a1030"/><g filter="url(#bl)"><circle cx="140.9" cy="92.0" r="1.6" fill="#2a6a9a" opacity="0.89"/><circle cx="130.5" cy="68.3" r="1.1" fill="#1f8a2c" opacity="0.72"/><circle cx="136.8" cy="57.0" r="1.0" fill="#1f8a2c" opacity="0.66"/><circle cx="159.7" cy="75.8" r="1.5" fill="#2a9a38" opacity="0.71"/><circle cx="153.1" cy="90.8" r="1.2" fill="#203096" opacity="0.81"/><circle cx="152.7" cy="75.7" r="1.5" fill="#3a8aa0" opacity="0.88"/><circle cx="146.7" cy="76.6" r="1.3" fill="#30a840" opacity="0.73"/><circle cx="164.0" cy="83.7" r="1.4" fill="#2a9a38" opacity="0.55"/><circle cx="166.5" cy="66.4" r="1.5" fill="#2838b4" opacity="0.56"/><circle cx="142.9" cy="59.7" r="1.5" fill="#2838b4" opacity="0.53"/><circle cx="154.5" cy="78.5" r="1.3" fill="#2838b4" opacity="0.53"/><circle cx="146.0" cy="76.3" r="1.1" fill="#2838b4" opacity="0.63"/><circle cx="154.8" cy="91.6" r="1.7" fill="#2e46c4" opacity="0.51"/><circle cx="146.1" cy="77.6" r="0.9" fill="#203096" opacity="0.71"/><circle cx="165.3" cy="55.3" r="0.8" fill="#1f8a2c" opacity="0.51"/><circle cx="160.0" cy="81.5" r="1.5" fill="#3a8aa0" opacity="0.53"/><circle cx="141.2" cy="92.3" r="1.2" fill="#38b848" opacity="0.63"/><circle cx="140.2" cy="54.6" r="1.2" fill="#060a14" opacity="0.79"/><circle cx="147.4" cy="68.1" r="0.9" fill="#3450bc" opacity="0.60"/><circle cx="145.6" cy="85.3" r="1.4" fill="#30a840" opacity="0.74"/><circle cx="149.5" cy="76.9" r="1.1" fill="#1f8a2c" opacity="0.63"/><circle cx="155.8" cy="81.0" r="1.6" fill="#2838b4" opacity="0.60"/><circle cx="134.9" cy="70.6" r="0.9" fill="#203096" opacity="0.53"/><circle cx="160.2" cy="94.0" r="1.6" fill="#30a840" opacity="0.65"/><circle cx="137.8" cy="77.7" r="1.7" fill="#3450bc" opacity="0.52"/><circle cx="127.3" cy="92.2" r="1.0" fill="#30a840" opacity="0.85"/><circle cx="165.4" cy="91.3" r="1.5" fill="#30a840" opacity="0.88"/><circle cx="133.9" cy="59.4" r="1.5" fill="#3450bc" opacity="0.87"/><circle cx="132.0" cy="88.8" r="0.9" fill="#203096" opacity="0.63"/><circle cx="149.9" cy="65.0" r="1.6" fill="#3a8aa0" opacity="0.60"/><circle cx="129.8" cy="80.1" r="1.7" fill="#1f8a2c" opacity="0.77"/><circle cx="133.6" cy="92.6" r="1.6" fill="#2a7a8a" opacity="0.89"/><circle cx="144.8" cy="78.1" r="0.9" fill="#060a14" opacity="0.69"/><circle cx="153.8" cy="71.6" r="0.8" fill="#2838b4" opacity="0.66"/><circle cx="159.7" cy="92.4" r="1.3" fill="#38b848" opacity="0.76"/><circle cx="145.1" cy="61.3" r="1.1" fill="#1f8a2c" opacity="0.84"/><circle cx="149.0" cy="81.5" r="0.9" fill="#1f8a2c" opacity="0.73"/><circle cx="151.1" cy="71.2" r="1.7" fill="#203096" opacity="0.59"/><circle cx="164.4" cy="88.1" r="1.4" fill="#2e46c4" opacity="0.87"/><circle cx="157.4" cy="91.4" r="1.7" fill="#38b848" opacity="0.61"/><circle cx="130.0" cy="81.5" r="1.7" fill="#2a9a38" opacity="0.71"/><circle cx="141.5" cy="54.1" r="1.6" fill="#203096" opacity="0.73"/><circle cx="128.3" cy="66.8" r="1.8" fill="#2838b4" opacity="0.61"/><circle cx="144.2" cy="57.4" r="1.2" fill="#2e46c4" opacity="0.52"/><circle cx="134.0" cy="79.3" r="1.7" fill="#1f8a2c" opacity="0.70"/><circle cx="145.8" cy="65.6" r="1.4" fill="#203096" opacity="0.78"/><circle cx="144.3" cy="66.0" r="1.6" fill="#2e46c4" opacity="0.78"/><circle cx="159.2" cy="86.1" r="1.0" fill="#38b848" opacity="0.87"/><circle cx="126.9" cy="74.5" r="1.4" fill="#38b848" opacity="0.53"/><circle cx="153.4" cy="58.4" r="1.0" fill="#3450bc" opacity="0.78"/><circle cx="157.1" cy="93.4" r="1.5" fill="#2a7a8a" opacity="0.67"/><circle cx="142.7" cy="69.8" r="1.7" fill="#2838b4" opacity="0.76"/><circle cx="146.2" cy="69.4" r="1.3" fill="#2a9a38" opacity="0.89"/><circle cx="135.5" cy="78.7" r="1.1" fill="#30a840" opacity="0.61"/><circle cx="133.7" cy="79.9" r="1.7" fill="#2838b4" opacity="0.86"/><circle cx="137.9" cy="92.1" r="1.1" fill="#2a6a9a" opacity="0.61"/><circle cx="147.4" cy="73.5" r="1.5" fill="#2a9a38" opacity="0.60"/><circle cx="134.2" cy="77.2" r="1.1" fill="#1f8a2c" opacity="0.88"/><circle cx="138.1" cy="88.4" r="1.7" fill="#3450bc" opacity="0.82"/><circle cx="163.6" cy="57.2" r="1.6" fill="#2a6a9a" opacity="0.72"/><circle cx="152.3" cy="91.5" r="1.2" fill="#203096" opacity="0.50"/><circle cx="129.6" cy="61.3" r="1.8" fill="#2e46c4" opacity="0.81"/><circle cx="150.0" cy="91.4" r="1.3" fill="#2a9a38" opacity="0.67"/><circle cx="130.4" cy="73.0" r="0.8" fill="#2838b4" opacity="0.69"/><circle cx="151.2" cy="88.7" r="1.5" fill="#3450bc" opacity="0.66"/><circle cx="152.6" cy="81.3" r="1.4" fill="#2a7a8a" opacity="0.60"/><circle cx="149.4" cy="70.1" r="1.4" fill="#38b848" opacity="0.58"/><circle cx="136.1" cy="83.7" r="1.4" fill="#203096" opacity="0.63"/><circle cx="126.9" cy="87.4" r="1.7" fill="#3450bc" opacity="0.58"/><circle cx="127.4" cy="57.7" r="1.2" fill="#30a840" opacity="0.68"/><circle cx="138.9" cy="79.0" r="0.9" fill="#1f8a2c" opacity="0.79"/><circle cx="151.6" cy="76.0" r="0.9" fill="#3450bc" opacity="0.59"/><circle cx="135.4" cy="78.2" r="1.0" fill="#3a8aa0" opacity="0.62"/><circle cx="150.6" cy="57.4" r="1.2" fill="#203096" opacity="0.84"/><circle cx="140.1" cy="71.1" r="1.2" fill="#38b848" opacity="0.90"/><circle cx="134.1" cy="90.5" r="1.6" fill="#2a9a38" opacity="0.66"/><circle cx="150.2" cy="82.5" r="1.1" fill="#203096" opacity="0.78"/><circle cx="149.0" cy="75.8" r="1.4" fill="#2e46c4" opacity="0.82"/><circle cx="146.9" cy="54.9" r="1.3" fill="#203096" opacity="0.57"/><circle cx="151.6" cy="89.7" r="1.8" fill="#2a6a9a" opacity="0.77"/><circle cx="130.0" cy="55.9" r="1.4" fill="#3a8aa0" opacity="0.88"/><circle cx="140.5" cy="84.4" r="1.0" fill="#1f8a2c" opacity="0.65"/><circle cx="134.9" cy="82.2" r="1.2" fill="#2a9a38" opacity="0.66"/><circle cx="158.3" cy="79.1" r="0.8" fill="#2e46c4" opacity="0.86"/><circle cx="152.1" cy="55.1" r="1.5" fill="#2a9a38" opacity="0.51"/><circle cx="159.6" cy="88.4" r="1.1" fill="#1f8a2c" opacity="0.85"/><circle cx="135.0" cy="73.0" r="1.6" fill="#38b848" opacity="0.61"/><circle cx="146.7" cy="68.4" r="1.0" fill="#3a8aa0" opacity="0.89"/><circle cx="140.0" cy="71.6" r="1.5" fill="#2a7a8a" opacity="0.57"/><circle cx="140.6" cy="82.3" r="1.0" fill="#1f8a2c" opacity="0.65"/><circle cx="135.4" cy="82.7" r="1.5" fill="#2a9a38" opacity="0.88"/><circle cx="127.0" cy="67.0" r="1.7" fill="#3450bc" opacity="0.53"/><circle cx="130.2" cy="54.8" r="0.8" fill="#2e46c4" opacity="0.56"/><circle cx="153.8" cy="56.1" r="1.2" fill="#2e46c4" opacity="0.64"/><circle cx="136.2" cy="65.7" r="1.2" fill="#2a9a38" opacity="0.57"/><circle cx="133.1" cy="60.5" r="1.7" fill="#30a840" opacity="0.80"/><circle cx="151.5" cy="80.4" r="1.2" fill="#2e46c4" opacity="0.70"/><circle cx="145.2" cy="75.2" r="1.1" fill="#2a7a8a" opacity="0.66"/><circle cx="152.6" cy="55.6" r="1.7" fill="#3a8aa0" opacity="0.83"/><circle cx="154.0" cy="81.7" r="1.3" fill="#3450bc" opacity="0.59"/><circle cx="149.8" cy="80.2" r="1.0" fill="#2e46c4" opacity="0.89"/><circle cx="148.3" cy="74.6" r="1.8" fill="#1f8a2c" opacity="0.53"/><circle cx="166.7" cy="54.5" r="1.6" fill="#38b848" opacity="0.68"/><circle cx="166.6" cy="89.8" r="1.4" fill="#3a8aa0" opacity="0.57"/><circle cx="145.0" cy="90.0" r="1.5" fill="#2a7a8a" opacity="0.82"/><circle cx="166.6" cy="90.9" r="1.5" fill="#2a7a8a" opacity="0.59"/><circle cx="129.0" cy="84.5" r="1.0" fill="#2a9a38" opacity="0.58"/><circle cx="158.7" cy="63.0" r="1.6" fill="#060a14" opacity="0.56"/><circle cx="134.3" cy="55.2" r="1.8" fill="#38b848" opacity="0.82"/><circle cx="163.0" cy="83.7" r="1.7" fill="#2a9a38" opacity="0.52"/><circle cx="149.1" cy="69.3" r="1.4" fill="#203096" opacity="0.67"/><circle cx="152.9" cy="55.4" r="1.5" fill="#203096" opacity="0.53"/><circle cx="133.6" cy="63.5" r="1.5" fill="#2a9a38" opacity="0.75"/><circle cx="141.7" cy="82.7" r="1.4" fill="#2a9a38" opacity="0.55"/><circle cx="136.4" cy="58.7" r="1.1" fill="#3a8aa0" opacity="0.56"/><circle cx="150.3" cy="90.6" r="1.6" fill="#2a9a38" opacity="0.73"/><circle cx="135.8" cy="61.6" r="1.8" fill="#2838b4" opacity="0.55"/><circle cx="141.7" cy="63.0" r="1.6" fill="#2a6a9a" opacity="0.79"/><circle cx="128.1" cy="87.0" r="1.7" fill="#30a840" opacity="0.60"/><circle cx="152.5" cy="59.8" r="1.4" fill="#2e46c4" opacity="0.87"/><circle cx="127.5" cy="58.5" r="1.2" fill="#30a840" opacity="0.53"/><circle cx="147.4" cy="56.8" r="1.2" fill="#3450bc" opacity="0.80"/><circle cx="130.0" cy="54.2" r="1.6" fill="#060a14" opacity="0.87"/><circle cx="143.3" cy="85.5" r="1.7" fill="#203096" opacity="0.55"/><circle cx="141.7" cy="82.3" r="0.8" fill="#2a9a38" opacity="0.61"/><circle cx="138.0" cy="84.0" r="1.7" fill="#2e46c4" opacity="0.64"/><circle cx="136.3" cy="76.3" r="1.2" fill="#38b848" opacity="0.74"/><circle cx="165.3" cy="89.9" r="1.6" fill="#2a6a9a" opacity="0.76"/><circle cx="165.4" cy="59.7" r="1.6" fill="#3a8aa0" opacity="0.76"/><circle cx="143.8" cy="77.2" r="1.2" fill="#38b848" opacity="0.84"/><circle cx="166.5" cy="64.5" r="1.3" fill="#3a8aa0" opacity="0.61"/><circle cx="141.6" cy="78.3" r="0.8" fill="#060a14" opacity="0.63"/><circle cx="137.3" cy="93.7" r="1.7" fill="#2a7a8a" opacity="0.82"/><circle cx="133.3" cy="72.5" r="1.1" fill="#3a8aa0" opacity="0.66"/><circle cx="138.8" cy="83.7" r="1.5" fill="#30a840" opacity="0.88"/><circle cx="131.2" cy="78.0" r="1.0" fill="#3450bc" opacity="0.79"/><circle cx="149.5" cy="81.0" r="1.7" fill="#2838b4" opacity="0.56"/><circle cx="153.7" cy="64.2" r="1.2" fill="#38b848" opacity="0.55"/><circle cx="152.3" cy="55.0" r="1.7" fill="#2a9a38" opacity="0.56"/><circle cx="140.3" cy="57.7" r="1.2" fill="#203096" opacity="0.76"/><circle cx="141.2" cy="71.0" r="1.5" fill="#2e46c4" opacity="0.89"/><circle cx="137.8" cy="85.0" r="1.2" fill="#2a6a9a" opacity="0.84"/><circle cx="145.8" cy="90.4" r="0.9" fill="#060a14" opacity="0.74"/><circle cx="154.0" cy="93.6" r="1.4" fill="#203096" opacity="0.67"/><circle cx="137.5" cy="92.4" r="1.7" fill="#2a6a9a" opacity="0.53"/><circle cx="130.8" cy="82.1" r="1.2" fill="#3a8aa0" opacity="0.73"/><circle cx="130.0" cy="63.2" r="1.2" fill="#1f8a2c" opacity="0.86"/><circle cx="155.9" cy="54.1" r="0.9" fill="#30a840" opacity="0.86"/><circle cx="156.7" cy="56.6" r="1.0" fill="#2e46c4" opacity="0.89"/><circle cx="137.5" cy="55.9" r="0.9" fill="#3450bc" opacity="0.51"/><circle cx="152.7" cy="72.8" r="1.7" fill="#2e46c4" opacity="0.57"/><circle cx="146.3" cy="66.3" r="1.2" fill="#3a8aa0" opacity="0.56"/><circle cx="144.8" cy="61.2" r="1.6" fill="#38b848" opacity="0.52"/><circle cx="146.7" cy="59.6" r="1.4" fill="#203096" opacity="0.63"/><circle cx="132.9" cy="83.7" r="1.7" fill="#203096" opacity="0.87"/><circle cx="135.2" cy="56.5" r="1.6" fill="#2e46c4" opacity="0.70"/><circle cx="152.4" cy="68.6" r="1.4" fill="#30a840" opacity="0.60"/><circle cx="129.7" cy="74.2" r="1.6" fill="#3a8aa0" opacity="0.67"/><circle cx="135.7" cy="93.2" r="1.1" fill="#203096" opacity="0.69"/><circle cx="149.0" cy="64.7" r="1.2" fill="#2e46c4" opacity="0.76"/><circle cx="136.3" cy="66.6" r="1.1" fill="#30a840" opacity="0.65"/><circle cx="130.8" cy="59.7" r="1.6" fill="#2838b4" opacity="0.70"/><circle cx="129.9" cy="56.7" r="1.7" fill="#2e46c4" opacity="0.82"/><circle cx="138.5" cy="73.2" r="0.8" fill="#1f8a2c" opacity="0.67"/><circle cx="129.4" cy="83.9" r="1.4" fill="#2a7a8a" opacity="0.63"/><circle cx="127.4" cy="70.8" r="1.7" fill="#30a840" opacity="0.85"/><circle cx="149.5" cy="59.0" r="1.5" fill="#2838b4" opacity="0.70"/><circle cx="133.3" cy="78.7" r="1.7" fill="#1f8a2c" opacity="0.88"/><circle cx="157.1" cy="79.8" r="1.0" fill="#1f8a2c" opacity="0.71"/><circle cx="143.0" cy="74.6" r="0.9" fill="#3450bc" opacity="0.52"/><circle cx="132.6" cy="92.4" r="1.0" fill="#38b848" opacity="0.73"/><circle cx="151.8" cy="78.4" r="0.8" fill="#1f8a2c" opacity="0.72"/><circle cx="129.8" cy="89.4" r="1.5" fill="#1f8a2c" opacity="0.80"/><circle cx="133.5" cy="67.1" r="1.1" fill="#3450bc" opacity="0.77"/><circle cx="130.4" cy="59.5" r="1.8" fill="#060a14" opacity="0.83"/><circle cx="141.6" cy="60.4" r="1.6" fill="#3450bc" opacity="0.83"/><circle cx="164.4" cy="62.3" r="1.7" fill="#30a840" opacity="0.54"/><circle cx="126.2" cy="87.7" r="1.4" fill="#2838b4" opacity="0.79"/><circle cx="157.8" cy="71.5" r="1.6" fill="#2a6a9a" opacity="0.70"/><circle cx="165.0" cy="89.0" r="1.3" fill="#2e46c4" opacity="0.73"/><circle cx="164.1" cy="76.0" r="0.8" fill="#2e46c4" opacity="0.63"/><circle cx="141.1" cy="66.4" r="1.0" fill="#38b848" opacity="0.64"/><circle cx="144.2" cy="84.6" r="1.2" fill="#2a9a38" opacity="0.69"/><circle cx="129.7" cy="87.7" r="1.3" fill="#38b848" opacity="0.82"/><circle cx="136.7" cy="86.4" r="1.7" fill="#203096" opacity="0.57"/><circle cx="166.6" cy="62.0" r="1.7" fill="#2838b4" opacity="0.53"/><circle cx="150.1" cy="66.8" r="1.3" fill="#38b848" opacity="0.52"/><circle cx="137.7" cy="65.7" r="1.6" fill="#2a7a8a" opacity="0.53"/><circle cx="136.1" cy="83.3" r="1.6" fill="#30a840" opacity="0.62"/><circle cx="137.1" cy="65.7" r="1.3" fill="#203096" opacity="0.52"/><circle cx="149.8" cy="85.9" r="1.6" fill="#060a14" opacity="0.56"/><circle cx="135.7" cy="86.2" r="1.2" fill="#3a8aa0" opacity="0.68"/><circle cx="147.6" cy="55.0" r="1.2" fill="#38b848" opacity="0.61"/><circle cx="142.0" cy="92.7" r="1.1" fill="#3a8aa0" opacity="0.88"/><circle cx="162.8" cy="87.5" r="1.6" fill="#2a9a38" opacity="0.71"/><circle cx="148.9" cy="89.5" r="1.7" fill="#2a7a8a" opacity="0.57"/><circle cx="149.1" cy="59.8" r="1.4" fill="#3450bc" opacity="0.83"/><circle cx="143.7" cy="67.1" r="1.6" fill="#3450bc" opacity="0.61"/><circle cx="129.3" cy="82.4" r="1.5" fill="#2838b4" opacity="0.53"/><circle cx="144.1" cy="63.9" r="0.9" fill="#38b848" opacity="0.68"/><circle cx="137.2" cy="80.9" r="1.3" fill="#1f8a2c" opacity="0.71"/><circle cx="131.5" cy="66.5" r="1.0" fill="#30a840" opacity="0.87"/><circle cx="145.8" cy="82.1" r="0.8" fill="#2a6a9a" opacity="0.54"/><circle cx="134.6" cy="83.2" r="0.9" fill="#2838b4" opacity="0.55"/><circle cx="129.3" cy="89.0" r="1.8" fill="#38b848" opacity="0.79"/><circle cx="145.4" cy="83.9" r="1.4" fill="#203096" opacity="0.78"/><circle cx="156.4" cy="59.5" r="1.5" fill="#30a840" opacity="0.55"/><circle cx="127.5" cy="82.1" r="0.9" fill="#1f8a2c" opacity="0.79"/><circle cx="160.3" cy="87.5" r="1.6" fill="#2a9a38" opacity="0.52"/><circle cx="150.0" cy="81.5" r="1.5" fill="#2e46c4" opacity="0.65"/><circle cx="152.2" cy="56.7" r="1.0" fill="#3450bc" opacity="0.68"/><circle cx="153.9" cy="75.9" r="1.7" fill="#2a9a38" opacity="0.83"/><circle cx="131.6" cy="92.7" r="0.8" fill="#2e46c4" opacity="0.85"/><circle cx="151.0" cy="83.3" r="1.4" fill="#2a6a9a" opacity="0.64"/><circle cx="166.6" cy="88.0" r="1.4" fill="#2a7a8a" opacity="0.82"/><circle cx="165.3" cy="86.5" r="1.4" fill="#3450bc" opacity="0.74"/><circle cx="133.0" cy="87.5" r="1.6" fill="#060a14" opacity="0.75"/><circle cx="166.4" cy="77.7" r="1.7" fill="#2e46c4" opacity="0.66"/><circle cx="126.5" cy="67.0" r="0.9" fill="#38b848" opacity="0.85"/><circle cx="149.6" cy="83.8" r="1.2" fill="#2838b4" opacity="0.82"/><circle cx="139.9" cy="93.1" r="0.8" fill="#1f8a2c" opacity="0.62"/><circle cx="162.7" cy="65.7" r="1.5" fill="#3a8aa0" opacity="0.64"/><circle cx="142.7" cy="89.8" r="1.5" fill="#2e46c4" opacity="0.52"/><circle cx="131.3" cy="83.9" r="0.9" fill="#2e46c4" opacity="0.68"/><circle cx="145.0" cy="69.3" r="1.2" fill="#060a14" opacity="0.83"/><circle cx="156.1" cy="54.9" r="1.4" fill="#30a840" opacity="0.63"/><circle cx="153.3" cy="90.2" r="1.2" fill="#203096" opacity="0.74"/><circle cx="159.2" cy="73.3" r="1.5" fill="#3a8aa0" opacity="0.71"/><circle cx="126.0" cy="85.7" r="1.3" fill="#38b848" opacity="0.68"/><circle cx="137.0" cy="80.0" r="0.9" fill="#38b848" opacity="0.79"/><circle cx="154.8" cy="67.2" r="1.3" fill="#2e46c4" opacity="0.61"/><circle cx="137.8" cy="89.6" r="1.0" fill="#38b848" opacity="0.50"/><circle cx="165.5" cy="84.1" r="1.0" fill="#060a14" opacity="0.52"/><circle cx="151.1" cy="78.9" r="0.9" fill="#203096" opacity="0.51"/><circle cx="160.8" cy="60.4" r="1.8" fill="#3450bc" opacity="0.63"/><circle cx="159.9" cy="75.3" r="1.4" fill="#2a9a38" opacity="0.71"/><circle cx="136.0" cy="59.0" r="1.1" fill="#3a8aa0" opacity="0.70"/><circle cx="146.4" cy="58.3" r="1.2" fill="#060a14" opacity="0.86"/><circle cx="128.7" cy="65.8" r="1.7" fill="#1f8a2c" opacity="0.52"/><circle cx="164.9" cy="63.6" r="1.3" fill="#2e46c4" opacity="0.52"/><circle cx="144.1" cy="86.3" r="1.2" fill="#2a9a38" opacity="0.82"/><circle cx="126.1" cy="76.2" r="0.9" fill="#3a8aa0" opacity="0.69"/><circle cx="166.1" cy="59.0" r="0.9" fill="#2e46c4" opacity="0.78"/><circle cx="143.1" cy="56.0" r="1.2" fill="#38b848" opacity="0.89"/><circle cx="133.0" cy="83.0" r="1.0" fill="#2e46c4" opacity="0.69"/><circle cx="140.2" cy="87.9" r="1.4" fill="#3450bc" opacity="0.55"/><circle cx="131.5" cy="77.8" r="1.3" fill="#2e46c4" opacity="0.66"/><circle cx="147.4" cy="79.3" r="1.0" fill="#38b848" opacity="0.70"/><circle cx="155.9" cy="87.3" r="1.6" fill="#060a14" opacity="0.69"/><circle cx="166.4" cy="65.6" r="1.7" fill="#2a6a9a" opacity="0.87"/><circle cx="137.1" cy="78.7" r="1.3" fill="#30a840" opacity="0.65"/><circle cx="166.7" cy="84.2" r="1.7" fill="#30a840" opacity="0.68"/><circle cx="144.1" cy="56.2" r="1.5" fill="#3450bc" opacity="0.79"/><circle cx="131.6" cy="74.3" r="1.6" fill="#2838b4" opacity="0.74"/><circle cx="161.5" cy="76.1" r="1.4" fill="#1f8a2c" opacity="0.88"/><circle cx="149.4" cy="75.8" r="1.6" fill="#1f8a2c" opacity="0.88"/><circle cx="150.2" cy="64.4" r="1.7" fill="#1f8a2c" opacity="0.58"/><circle cx="134.4" cy="54.6" r="0.8" fill="#38b848" opacity="0.73"/><circle cx="136.1" cy="78.6" r="1.4" fill="#203096" opacity="0.61"/><circle cx="134.1" cy="83.7" r="1.1" fill="#2e46c4" opacity="0.88"/><circle cx="149.9" cy="64.3" r="1.6" fill="#203096" opacity="0.73"/><circle cx="136.2" cy="56.7" r="1.3" fill="#30a840" opacity="0.58"/><circle cx="162.3" cy="54.0" r="1.7" fill="#2e46c4" opacity="0.75"/><circle cx="149.9" cy="67.0" r="1.8" fill="#3a8aa0" opacity="0.66"/><circle cx="132.8" cy="88.9" r="1.2" fill="#2a7a8a" opacity="0.84"/><circle cx="148.4" cy="74.7" r="1.4" fill="#2838b4" opacity="0.72"/><circle cx="135.7" cy="58.9" r="1.1" fill="#2a7a8a" opacity="0.73"/><circle cx="147.3" cy="72.2" r="1.5" fill="#2a9a38" opacity="0.83"/><circle cx="126.3" cy="80.4" r="1.5" fill="#30a840" opacity="0.82"/><circle cx="158.2" cy="72.8" r="1.3" fill="#38b848" opacity="0.61"/><circle cx="130.1" cy="91.3" r="1.6" fill="#1f8a2c" opacity="0.62"/><circle cx="141.3" cy="71.3" r="0.9" fill="#2e46c4" opacity="0.70"/><circle cx="147.3" cy="67.5" r="0.8" fill="#38b848" opacity="0.74"/><circle cx="155.5" cy="78.6" r="1.3" fill="#3450bc" opacity="0.84"/><circle cx="153.5" cy="68.5" r="1.5" fill="#203096" opacity="0.78"/><circle cx="143.5" cy="92.8" r="1.4" fill="#30a840" opacity="0.62"/><circle cx="127.1" cy="60.2" r="1.3" fill="#2e46c4" opacity="0.90"/><circle cx="129.6" cy="88.4" r="1.2" fill="#30a840" opacity="0.76"/><circle cx="144.9" cy="60.5" r="1.6" fill="#2a6a9a" opacity="0.75"/><circle cx="166.3" cy="86.7" r="1.8" fill="#38b848" opacity="0.74"/><circle cx="137.1" cy="75.9" r="1.0" fill="#2838b4" opacity="0.64"/><circle cx="146.2" cy="71.7" r="1.4" fill="#30a840" opacity="0.61"/><circle cx="151.4" cy="72.9" r="1.8" fill="#2e46c4" opacity="0.72"/><circle cx="139.7" cy="64.2" r="1.8" fill="#3450bc" opacity="0.74"/><circle cx="151.5" cy="69.3" r="1.4" fill="#3450bc" opacity="0.71"/><circle cx="148.5" cy="76.4" r="1.8" fill="#2e46c4" opacity="0.51"/><circle cx="128.2" cy="86.7" r="1.7" fill="#2a9a38" opacity="0.54"/><circle cx="144.9" cy="92.5" r="1.3" fill="#2a9a38" opacity="0.83"/><circle cx="151.3" cy="83.2" r="1.5" fill="#2a9a38" opacity="0.60"/><circle cx="141.3" cy="73.2" r="1.0" fill="#38b848" opacity="0.70"/><circle cx="159.0" cy="64.9" r="0.9" fill="#2838b4" opacity="0.63"/><circle cx="142.3" cy="58.1" r="1.8" fill="#1f8a2c" opacity="0.63"/><circle cx="166.9" cy="72.2" r="1.5" fill="#2a7a8a" opacity="0.90"/><circle cx="161.1" cy="58.4" r="1.1" fill="#2a9a38" opacity="0.81"/><circle cx="144.3" cy="59.9" r="1.3" fill="#2e46c4" opacity="0.78"/><circle cx="160.4" cy="85.4" r="0.9" fill="#2a9a38" opacity="0.59"/><circle cx="151.6" cy="64.1" r="1.6" fill="#1f8a2c" opacity="0.88"/><circle cx="144.6" cy="84.7" r="1.2" fill="#38b848" opacity="0.81"/><circle cx="139.4" cy="70.3" r="1.0" fill="#1f8a2c" opacity="0.64"/><circle cx="158.4" cy="66.0" r="1.1" fill="#3450bc" opacity="0.66"/><circle cx="136.2" cy="77.9" r="1.2" fill="#38b848" opacity="0.79"/><circle cx="146.2" cy="78.2" r="1.3" fill="#3450bc" opacity="0.80"/><circle cx="132.4" cy="79.2" r="1.5" fill="#30a840" opacity="0.55"/><circle cx="148.9" cy="66.1" r="0.8" fill="#3450bc" opacity="0.81"/><circle cx="128.8" cy="63.3" r="0.8" fill="#2e46c4" opacity="0.73"/><circle cx="133.6" cy="74.9" r="1.6" fill="#30a840" opacity="0.70"/><circle cx="143.1" cy="79.4" r="1.6" fill="#2a6a9a" opacity="0.71"/><circle cx="162.1" cy="93.4" r="0.9" fill="#2e46c4" opacity="0.62"/><circle cx="152.1" cy="60.0" r="1.0" fill="#2a6a9a" opacity="0.62"/><circle cx="154.6" cy="89.4" r="0.9" fill="#1f8a2c" opacity="0.73"/><circle cx="162.9" cy="54.9" r="1.2" fill="#3450bc" opacity="0.76"/><circle cx="138.9" cy="87.2" r="0.8" fill="#38b848" opacity="0.61"/><circle cx="145.5" cy="92.0" r="1.1" fill="#2a9a38" opacity="0.51"/><circle cx="162.1" cy="56.7" r="1.6" fill="#3a8aa0" opacity="0.83"/><circle cx="133.3" cy="74.2" r="1.1" fill="#38b848" opacity="0.80"/><circle cx="153.2" cy="91.2" r="1.4" fill="#2a9a38" opacity="0.76"/><circle cx="150.1" cy="73.2" r="1.7" fill="#2a9a38" opacity="0.57"/><circle cx="138.0" cy="76.1" r="0.8" fill="#2a6a9a" opacity="0.88"/><circle cx="145.2" cy="62.2" r="1.4" fill="#2e46c4" opacity="0.60"/><circle cx="145.3" cy="72.6" r="1.1" fill="#38b848" opacity="0.55"/><circle cx="127.1" cy="75.0" r="0.9" fill="#3450bc" opacity="0.65"/><circle cx="139.4" cy="81.2" r="1.2" fill="#2e46c4" opacity="0.66"/><circle cx="129.7" cy="58.4" r="1.1" fill="#2a6a9a" opacity="0.64"/><circle cx="132.6" cy="70.0" r="1.0" fill="#1f8a2c" opacity="0.87"/><circle cx="134.5" cy="58.2" r="1.7" fill="#203096" opacity="0.67"/><circle cx="150.3" cy="56.8" r="1.2" fill="#2a6a9a" opacity="0.89"/><circle cx="146.0" cy="85.8" r="0.9" fill="#2a9a38" opacity="0.77"/><circle cx="135.6" cy="78.7" r="1.3" fill="#38b848" opacity="0.84"/><circle cx="139.6" cy="66.9" r="1.4" fill="#2a9a38" opacity="0.81"/><circle cx="159.7" cy="82.5" r="1.2" fill="#2838b4" opacity="0.59"/><circle cx="143.2" cy="81.8" r="1.7" fill="#30a840" opacity="0.69"/><circle cx="147.9" cy="81.0" r="1.3" fill="#38b848" opacity="0.71"/><circle cx="141.3" cy="55.1" r="1.8" fill="#3450bc" opacity="0.76"/><circle cx="147.7" cy="88.9" r="1.7" fill="#2a6a9a" opacity="0.90"/><circle cx="148.3" cy="83.3" r="1.7" fill="#2a6a9a" opacity="0.68"/><circle cx="166.9" cy="75.3" r="1.2" fill="#2a9a38" opacity="0.63"/><circle cx="135.8" cy="66.6" r="0.8" fill="#203096" opacity="0.52"/><circle cx="127.5" cy="92.5" r="1.5" fill="#2838b4" opacity="0.54"/><circle cx="143.9" cy="78.4" r="1.5" fill="#1f8a2c" opacity="0.83"/><circle cx="146.1" cy="63.3" r="1.4" fill="#2e46c4" opacity="0.89"/><circle cx="165.7" cy="84.8" r="1.6" fill="#38b848" opacity="0.68"/><circle cx="154.3" cy="60.8" r="1.3" fill="#2e46c4" opacity="0.78"/><circle cx="129.2" cy="80.4" r="0.8" fill="#3450bc" opacity="0.86"/><circle cx="139.0" cy="90.5" r="1.5" fill="#2a9a38" opacity="0.66"/><circle cx="164.6" cy="72.9" r="1.0" fill="#30a840" opacity="0.61"/><circle cx="133.6" cy="60.7" r="1.1" fill="#2a9a38" opacity="0.88"/><circle cx="143.4" cy="72.3" r="1.5" fill="#3450bc" opacity="0.82"/><circle cx="165.2" cy="65.3" r="1.5" fill="#2a9a38" opacity="0.57"/><circle cx="158.7" cy="78.9" r="1.5" fill="#2838b4" opacity="0.73"/><circle cx="151.8" cy="69.3" r="1.6" fill="#30a840" opacity="0.85"/><circle cx="141.8" cy="86.2" r="1.0" fill="#060a14" opacity="0.63"/><circle cx="165.2" cy="55.4" r="1.1" fill="#30a840" opacity="0.53"/><circle cx="161.0" cy="92.8" r="1.5" fill="#2838b4" opacity="0.73"/><circle cx="160.7" cy="71.9" r="1.2" fill="#2a7a8a" opacity="0.75"/><circle cx="158.3" cy="77.5" r="1.3" fill="#203096" opacity="0.85"/><circle cx="157.6" cy="65.9" r="1.5" fill="#3a8aa0" opacity="0.80"/><circle cx="132.9" cy="80.7" r="1.8" fill="#30a840" opacity="0.87"/><circle cx="137.9" cy="57.3" r="0.9" fill="#2e46c4" opacity="0.61"/><circle cx="145.0" cy="65.9" r="1.2" fill="#2e46c4" opacity="0.67"/><circle cx="134.8" cy="79.9" r="0.9" fill="#3a8aa0" opacity="0.72"/><circle cx="147.4" cy="66.2" r="1.1" fill="#30a840" opacity="0.69"/><circle cx="166.6" cy="93.3" r="1.5" fill="#38b848" opacity="0.58"/><circle cx="150.4" cy="83.4" r="1.2" fill="#203096" opacity="0.61"/><circle cx="151.7" cy="59.1" r="1.8" fill="#2a9a38" opacity="0.80"/><circle cx="147.8" cy="87.9" r="0.9" fill="#1f8a2c" opacity="0.54"/><circle cx="161.7" cy="65.9" r="1.6" fill="#1f8a2c" opacity="0.68"/><circle cx="165.7" cy="57.2" r="1.8" fill="#3a8aa0" opacity="0.90"/><circle cx="129.9" cy="78.7" r="1.6" fill="#3a8aa0" opacity="0.88"/><circle cx="163.6" cy="75.2" r="1.6" fill="#2a9a38" opacity="0.75"/><circle cx="149.2" cy="60.8" r="1.2" fill="#2a9a38" opacity="0.79"/><circle cx="151.2" cy="70.0" r="1.7" fill="#2a9a38" opacity="0.59"/><circle cx="150.4" cy="77.4" r="1.4" fill="#1f8a2c" opacity="0.88"/><circle cx="126.5" cy="73.2" r="1.2" fill="#2838b4" opacity="0.87"/><circle cx="151.5" cy="61.9" r="1.2" fill="#2a7a8a" opacity="0.63"/><circle cx="142.3" cy="82.0" r="1.1" fill="#2a6a9a" opacity="0.78"/><circle cx="128.1" cy="87.7" r="1.8" fill="#30a840" opacity="0.51"/><circle cx="152.4" cy="71.2" r="1.0" fill="#2838b4" opacity="0.74"/><circle cx="145.8" cy="90.7" r="0.8" fill="#30a840" opacity="0.58"/><circle cx="150.5" cy="75.7" r="1.7" fill="#1f8a2c" opacity="0.59"/><circle cx="138.7" cy="78.0" r="1.7" fill="#3a8aa0" opacity="0.66"/><circle cx="145.9" cy="64.2" r="1.7" fill="#38b848" opacity="0.88"/><circle cx="132.0" cy="92.6" r="1.2" fill="#2a7a8a" opacity="0.57"/><circle cx="157.5" cy="87.5" r="1.3" fill="#2a9a38" opacity="0.59"/><circle cx="163.9" cy="89.4" r="1.6" fill="#38b848" opacity="0.81"/><circle cx="140.4" cy="83.6" r="1.2" fill="#30a840" opacity="0.62"/><circle cx="127.3" cy="73.1" r="1.7" fill="#2838b4" opacity="0.79"/><circle cx="154.4" cy="83.6" r="1.7" fill="#3450bc" opacity="0.62"/><circle cx="133.8" cy="74.0" r="0.8" fill="#1f8a2c" opacity="0.58"/><circle cx="151.4" cy="69.8" r="1.7" fill="#3450bc" opacity="0.66"/><circle cx="139.5" cy="75.6" r="1.4" fill="#3a8aa0" opacity="0.60"/><circle cx="154.4" cy="91.0" r="1.8" fill="#38b848" opacity="0.53"/><circle cx="134.7" cy="63.3" r="1.7" fill="#2e46c4" opacity="0.57"/><circle cx="135.1" cy="89.0" r="1.8" fill="#3a8aa0" opacity="0.62"/><circle cx="151.2" cy="84.1" r="1.0" fill="#1f8a2c" opacity="0.57"/><circle cx="147.4" cy="87.7" r="1.5" fill="#1f8a2c" opacity="0.61"/><circle cx="130.1" cy="60.9" r="0.9" fill="#1f8a2c" opacity="0.65"/><circle cx="144.9" cy="62.5" r="1.2" fill="#2838b4" opacity="0.71"/><circle cx="159.2" cy="54.9" r="1.7" fill="#203096" opacity="0.70"/><circle cx="146.8" cy="85.8" r="1.8" fill="#2e46c4" opacity="0.51"/><circle cx="135.8" cy="65.8" r="1.4" fill="#3a8aa0" opacity="0.79"/><ellipse cx="134" cy="71.2" rx="3.2" ry="0.7" fill="#4ae060" transform="rotate(12 134 71.2)"/></g></g><rect x="127.6" y="55.0" width="37.6" height="38.2" fill="none" stroke="#111" stroke-width="0.6"/>
<g>
<path d="M199,44.2 C201,44 203,44.2 204.8,44.9 C206.8,45.8 208.2,47 209.1,48.5 C210.5,49.6 211.6,51 212,52.8 C212.2,54.5 211.2,56 209.5,56.7 C208.8,57 208.2,57.1 207.7,57.2 C207.5,58.8 207,60.5 206.2,62.2 C206.8,64.6 207.4,67 207.7,69.5 C208.2,70.8 208.6,72 209.1,73.1 C210.5,73.6 211.5,74.2 212,75 C211.5,76.5 210,77.9 207.7,78.9 C205.5,79.9 203,80.3 200.5,80.3 C197,80.2 194,78.2 191.8,75.3 C190.6,71.8 190.1,67.8 190.3,63.7 C190.4,59.2 190.8,54.8 191.8,50.7 C192.5,48.6 193.5,46.9 194.7,45.6 C196,44.7 197.5,44.3 199,44.2 Z" fill="#efd8db"/>
<path d="M206.4,51.2 C208.2,50.4 210.5,50.8 211.8,52.4 C212.3,54 211.6,55.8 210,56.5 C208.5,56.9 207,56.6 206.2,55.5 C205.6,54.2 205.6,52.4 206.4,51.2 Z" fill="#c6b4b8"/>
<path d="M199.8,58.3 C201.8,57.4 204.8,57.2 207.3,57.8 C207.9,59 207.4,60.4 206,61.2 C204.2,61.8 201.9,61.7 200.4,60.8 C199.6,60.1 199.4,59.1 199.8,58.3 Z" fill="#c2b0b4"/>
<path d="M211.5,71.4 C213.2,70.7 215.5,70.9 216.9,72 C217.4,73.4 217,74.9 215.8,75.7 C214.2,76.2 212.4,76 211.2,75 C210.6,73.9 210.7,72.4 211.5,71.4 Z" fill="#c0aeb2"/>
<path d="M194.5,66 C196,70 198.5,73 202,74.5" fill="none" stroke="#dcc2c6" stroke-width="0.5"/>
<circle cx="199.2" cy="51" r="0.45" fill="#c0a8ac"/>
</g>
<g>
<path d="M224.6,40.6 C225.4,37.5 226.4,34.3 227.7,31.3 C229,28 230.6,24.8 232.4,22 C233.8,20.2 235.3,18.6 237,17.4 C239,16 241,15 243.2,14.3 C245.8,13.7 248.3,13.5 250.9,13.5 C254,13.5 257.2,13.8 260.2,14.3 C262.5,15 264.6,16 266.4,17.4 C268,19.2 269.4,21.3 270.3,23.6 C271.2,26.2 271.7,28.7 271.8,31.3 L271.8,40.6 C271.6,42.6 271.1,44.4 270.3,46 C269.2,47.1 267.9,47.8 266.4,48 L235.5,48 C232.6,47.4 230,46.4 227.7,45.2 C226.3,43.8 225.2,42.3 224.6,40.6 Z" fill="#f2e6c6" stroke="#d4c6a4" stroke-width="0.35"/>
<path d="M230.8,25.9 C232,23.6 233.6,21.4 235.5,19.7 C237.8,17.8 240.4,16.4 243.2,15.5 C246.3,14.8 249.4,14.5 252.5,14.6 C255.7,14.7 258.8,15 261.8,15.5 C263.9,16.4 265.7,17.5 267.2,18.9 C268.4,20.8 269.3,22.9 269.8,25.1 C270.4,27.6 270.7,30.3 270.8,32.9 C270.9,36 270.7,39.1 270.3,42.1 C269.8,43.4 269,44.5 268,45.5 L264.9,45.2 C264.6,42.1 264.4,39 264.1,35.9 C263.5,34 262.8,32.2 261.8,30.5 C259.8,29.4 257.8,28.7 255.6,28.2 C253,28.3 250.5,28.6 247.9,29 C245.3,29.3 242.7,29.6 240.1,29.8 C238,29.5 235.9,28.9 233.9,28.2 C232.8,27.5 231.7,26.7 230.8,25.9 Z" fill="#bdb6ad"/>
<path d="M244,25 C247,23.5 251,23.3 255,23.8 C258,24.6 260.5,26 262,28 C260,29.2 257.5,29.6 255,29.2 C251,29 247,29.4 244.5,28.6 C243.5,27.5 243.4,26.2 244,25 Z" fill="#bdb6ad"/>
<path d="M235.8,21.5 C236.8,19.9 238.6,18.9 240.6,18.9 C241.8,19.4 242,20.8 241.3,22.1 C240.3,23.3 238.5,23.8 236.8,23.6 C235.9,23.1 235.5,22.3 235.8,21.5 Z" fill="#e6ddcc"/>
<path d="M257.3,17.6 C259.3,16.8 261.8,16.9 263.8,17.9 C264.9,19.1 264.8,20.6 263.6,21.6 C261.6,22.4 259.2,22.5 257.6,21.7 C256.6,20.5 256.5,18.8 257.3,17.6 Z" fill="#efe9dc"/>
<path d="M238,30.5 C242,30 246,30.8 249,32.2" fill="none" stroke="#cbbf9e" stroke-width="0.4"/>
<path d="M226.8,33 C232,32 238,32.3 243,33.6 C248,35 253,36.5 258,37.2 C260,37.4 262,37.4 264,37" fill="none" stroke="#d8caa6" stroke-width="0.5"/>
<path d="M225.6,38.5 C230,37.2 235,37.3 240,38.4" fill="none" stroke="#d8caa6" stroke-width="0.45"/>
<path d="M228,45 C235,45.6 245,46 256,45.4 C259,45.1 262,44.5 264.5,43.5" fill="none" stroke="#d8caa6" stroke-width="0.45"/>
<path d="M232,41.2 C235,39.6 239.5,38.6 243.5,38.4 C248,38.2 252.5,38.5 256.4,39.4 C257.4,40.4 257,41.8 255.6,42.6 C251.5,42.9 247.5,42.7 243.6,43.1 C240,43.5 236.8,44.2 234,44.6 C232.4,44.2 231.6,42.6 232,41.2 Z" fill="#e6c4ce"/>
<path d="M235.5,41.9 C240,40.6 247,40.5 253,40.8" fill="none" stroke="#f2dfe4" stroke-width="0.5"/>
<path d="M234.6,27 h4.5 M256.5,35 h4.5" stroke="#7e7870" stroke-width="0.6"/><path d="M241,18.5 C244,17.5 248,17.3 251,18.2 M262,24 C264.5,26 265.5,29 265.8,32.5 M245,27 C248,26.2 251,26.4 253,27.5" fill="none" stroke="#a39b92" stroke-width="0.5"/>
<path d="M244,25.1 C245.5,23.2 247.5,22.2 249.5,22.4 C251,22.6 252.2,23.4 252.9,24.4" fill="none" stroke="#2832d8" stroke-width="0.9"/>
<path d="M262,21.8 L271.2,19.4 L270.6,21.2 Z" fill="#111" stroke="#111" stroke-width="0.7"/>
<path d="M264.6,25.6 L271,20.2 L269.8,22.4 Z" fill="#111" stroke="#111" stroke-width="0.7"/>
<circle cx="255" cy="23.8" r="1.15" fill="#20a030"/>
<line x1="256.8" y1="10.5" x2="248.8" y2="30.6" stroke="#f04040" stroke-width="0.75" stroke-dasharray="1.6,1"/>
<line x1="249.5" y1="25.8" x2="268.5" y2="21.2" stroke="#f04040" stroke-width="0.75" stroke-dasharray="1.6,1"/>
<circle cx="272.9" cy="16.3" r="1.6" fill="none" stroke="#555" stroke-width="0.6"/>
<circle cx="275.6" cy="20.8" r="1.6" fill="none" stroke="#555" stroke-width="0.6"/>
</g>
<path d="M255.5,50.2 V54.8 M253.2,52.5 H257.8" stroke="#111" stroke-width="1.3"/>
<rect x="231.1" y="59.1" width="43.7" height="29.7" fill="#060606"/><g clip-path="url(#cfl)"><g filter="url(#bl2)"><ellipse cx="264" cy="71" rx="8.5" ry="4.2" fill="#1a4e1a"/></g><g filter="url(#bl3)"><path d="M240,76.8 C240.5,73.5 242.5,70.5 245.5,68.5 C249,66.6 252.5,65.5 256,65.2 C257,66.5 257,68.5 256,70 C254,72.5 250.5,74.8 246.5,76.2 C244,77 241.5,77.3 240,76.8 Z" fill="#c030ec"/><circle cx="258.4" cy="67.7" r="0.5" fill="#2f8a2f" opacity="0.8"/><circle cx="263.2" cy="69.7" r="0.5" fill="#2f8a2f" opacity="0.8"/><circle cx="258.1" cy="72.2" r="0.8" fill="#2f8a2f" opacity="0.8"/><circle cx="266.5" cy="74.4" r="0.5" fill="#2f8a2f" opacity="0.8"/><circle cx="266.2" cy="69.9" r="0.7" fill="#2f8a2f" opacity="0.8"/><circle cx="266.0" cy="71.9" r="0.8" fill="#2f8a2f" opacity="0.8"/><circle cx="271.3" cy="68.1" r="0.6" fill="#2f8a2f" opacity="0.8"/><circle cx="258.3" cy="71.5" r="0.5" fill="#2f8a2f" opacity="0.8"/><circle cx="267.5" cy="69.8" r="0.4" fill="#2f8a2f" opacity="0.8"/><circle cx="270.3" cy="68.0" r="0.5" fill="#2f8a2f" opacity="0.8"/><circle cx="264.8" cy="67.5" r="0.7" fill="#2f8a2f" opacity="0.8"/><circle cx="267.7" cy="67.9" r="0.6" fill="#2f8a2f" opacity="0.8"/><circle cx="258.9" cy="71.2" r="0.4" fill="#2f8a2f" opacity="0.8"/><circle cx="261.2" cy="70.6" r="0.6" fill="#2f8a2f" opacity="0.8"/><circle cx="266.8" cy="74.4" r="0.5" fill="#2f8a2f" opacity="0.8"/><circle cx="262.3" cy="68.7" r="0.7" fill="#2f8a2f" opacity="0.8"/><circle cx="262.5" cy="68.7" r="0.5" fill="#2f8a2f" opacity="0.8"/><circle cx="263.3" cy="73.7" r="0.6" fill="#2f8a2f" opacity="0.8"/><circle cx="269.2" cy="70.8" r="0.6" fill="#2f8a2f" opacity="0.8"/><circle cx="260.8" cy="70.3" r="0.7" fill="#2f8a2f" opacity="0.8"/><circle cx="258.3" cy="70.6" r="0.5" fill="#2f8a2f" opacity="0.8"/><circle cx="261.4" cy="69.7" r="0.5" fill="#2f8a2f" opacity="0.8"/><circle cx="265.6" cy="67.3" r="0.5" fill="#2f8a2f" opacity="0.8"/><circle cx="261.0" cy="68.4" r="0.7" fill="#2f8a2f" opacity="0.8"/><circle cx="267.3" cy="74.1" r="0.5" fill="#2f8a2f" opacity="0.8"/><ellipse cx="247" cy="81.5" rx="10.5" ry="3.4" fill="#dcd820"/><ellipse cx="246" cy="81.2" rx="6" ry="2.2" fill="#f0ec30"/><ellipse cx="262" cy="82" rx="12.5" ry="1.7" fill="#38d41c"/><ellipse cx="270" cy="82" rx="4.5" ry="1.8" fill="#4cf428"/><ellipse cx="234.6" cy="79.5" rx="2.4" ry="5.6" fill="#ee1c10"/><ellipse cx="238" cy="84" rx="3.6" ry="1.3" fill="#ee2a10"/></g></g><path d="M232.3,63.4 C234.5,63.8 236,64.6 236.7,65.3 C238,67.5 238.8,70 239.1,72.1 C239.5,74.5 239.9,76 240.4,77 C245,77.1 260,76.9 273.8,76.8" fill="none" stroke="#8a8a8a" stroke-width="0.4"/><rect x="255.8" y="62.6" width="5" height="0.7" fill="#888"/>
<path d="M240.5,88.8 v1 M249.8,88.8 v1 M259.2,88.8 v1 M268.6,88.8 v1 M230.3,62 h0.8 M230.3,71 h0.8 M230.3,81 h0.8 M230.3,86 h0.8" stroke="#888" stroke-width="0.35"/>
<g>
<path d="M355.8,38.5 C355.8,37 356.8,36.4 358.5,36 L372,33.6 L376,33.6 L376,48.5 L365.5,48.5 L366.4,76.4 L362,75.2 C359,74 357.2,72 356.8,69.2 Z" fill="url(#seqs)"/>
<path d="M355.9,38 C356,37.2 356.6,36.7 357.5,36.5 L360.2,36.1 L360.6,71.8 L358.5,70.8 C357.2,70 356.5,69.2 356.4,68 Z" fill="#a9a9a9"/><path d="M356,38 L360.2,37.2 L360.3,44 L356.1,44.5 Z" fill="#7c7c7c"/><path d="M360.2,36.1 L373,33.6" stroke="#bbb" stroke-width="0.5"/>
<path d="M362.5,36.4 L371,35" stroke="#c6c6c6" stroke-width="0.4"/>
<path d="M372.2,30.8 C372.4,30 373,29.8 374,29.8 L403.5,29.8 C404.4,29.8 404.9,30.3 404.9,31.2 L404.9,48.1 L374.1,48.1 Z" fill="#333"/>
<path d="M378.9,31.8 L401,31.8 L401,45.2 L379.6,45.2 Z" fill="#474747"/>
<path d="M365.5,48.7 L413.5,48.1 L413.5,73 C413.5,74 412.8,74.6 411.6,74.7 L368,76.4 C367,76.4 366.4,75.8 366.4,75 Z" fill="url(#seqf)"/>
<path d="M412.3,49.5 L412.3,73.5" stroke="#777" stroke-width="0.8"/>
<path d="M365.5,48.7 L413.5,48.1" stroke="#2eb6c6" stroke-width="1.1"/>
<path d="M363.5,75 L366.4,76.4 L411.6,74.7 L409.7,77.4 L366,77.9 Z" fill="#dcdcdc"/>
</g>
<g>
<clipPath id="ccor"><path d="M482.7,21.8 C484,19.5 485.5,18 487.5,17.1 C490,15.8 492.6,15 495.4,14.7 C498,14.5 500.8,14.4 503.3,14.7 C505.5,15.2 507.4,16 508.8,17.1 C510.5,16.2 512.2,15.6 514.3,15.5 C517,15 519.6,14.7 522.2,14.7 C525,15 527.6,15.8 530.1,17.1 C532.5,18.6 534.4,20.5 535.7,22.6 C537,25 537.8,27.7 538,30.5 C538.2,33.8 537.9,37 537.2,40 C536.4,42.6 535.4,45 534.1,47.1 C532.5,49 530.7,50.4 528.6,51.1 C526.5,51.8 524.3,52 522.2,51.9 C520.5,51.6 519,51 517.5,50.3 C515,50.9 512.3,51.3 509.6,51.4 L500.1,51.4 C497.8,51.2 495.7,50.9 493.8,50.3 C491.5,49.3 489.3,47.9 487.5,46.3 C485.3,44 483.7,41.2 482.7,38.4 C481.8,35.8 481.4,33.1 481.5,30.5 C481.6,27.5 482,24.5 482.7,21.8 Z"/></clipPath>
<g clip-path="url(#ccor)">
<rect x="480" y="13" width="60" height="40" fill="#f3e6d2"/>
<rect x="480" y="13" width="28.8" height="40" fill="#dcb276"/>
<path d="M488,33 C489,27 491,23 494,21 C497,19.5 500,19.4 503,20.2 C505.5,21.2 507.5,22.5 508.8,24 C510.5,22.4 512.8,21 515.5,20.5 C519,19.8 523,20.2 526,22 C529,24 531,27.5 531.5,31.5 L531.5,36 L488,36 Z" fill="#e7c48c"/>
<path d="M509,24.2 C510.6,22.6 512.8,21.2 515.5,20.7 C519,20 523,20.4 526,22.2 C529,24.2 531,27.5 531.5,31.5 L531.5,36 L509,36 Z" fill="#ead3ae"/>
<path d="M491.5,34 C492,29.5 494,26.5 497,25.2 C500,24.2 503.5,24.6 506.5,26.5 C507.6,27.3 508.4,28.1 508.8,29 L508.8,36 L491.5,36 Z" fill="#f1dcbc"/>
<path d="M509,29 C510,27.8 512,26.3 514.5,25.6 C518,24.8 521.5,25.3 524,27 C526.5,28.8 528,31.5 528.3,34.5 L528.3,36 L509,36 Z" fill="#f6ead8"/>
<path d="M489.8,35.3 L527,35.3 L520.7,47.1 L495.4,47.1 Z" fill="#b9abaa"/>
<path d="M508.8,35.3 L527,35.3 L520.7,47.1 L508.8,47.1 Z" fill="#c6bab9"/>
<path d="M497,47.5 C499,46 502,45.6 505,46.4 C507,47.2 508.2,47.4 509,47.5 C510.5,46.6 513,45.7 516,45.8 C518.5,46 520.3,46.8 521,48 L520,52 L497.5,52 Z" fill="#e6e7ef"/>
</g>
<path d="M508.2,25.4 q1.2,1.2 2.6,0 M509.4,25.9 v1.8" stroke="#a8a070" stroke-width="0.45" fill="none"/>
<line x1="482.7" y1="22.6" x2="491" y2="37" stroke="#8a7a66" stroke-width="0.4"/>
<line x1="534.9" y1="27.4" x2="527" y2="36" stroke="#8a7a66" stroke-width="0.4"/>
<line x1="480.4" y1="35.3" x2="538.8" y2="35.3" stroke="#555" stroke-width="0.5" stroke-dasharray="1.3,0.9"/>
<polygon points="540.8,35.3 537.8,34 537.8,36.6" fill="#777"/>
<path d="M542.2,33.6 l1.2,1.2 l-1.2,1.2" stroke="#aaa" stroke-width="0.35" fill="none"/>
</g>
<g>
<path d="M474.7,76.6 C474.5,74.5 476,73.2 478.5,72.5 C481,71.8 483.5,71.2 485.7,69.7 C487.8,67.4 490,65.6 492.6,64.2 C495.5,63 498.7,62.4 502.2,62.2 C505,61.8 507.8,61.5 510.5,61.5 L512.5,61.6 C515.5,62 518.5,63 521,64.5 C524,64.2 527.5,64.8 530.5,66.2 C534,67.8 536.8,70.5 538.5,73.5 C539.8,76.5 540,80 539.3,83.5 C538,86 536,87.6 533.8,88.3 C530,89.6 525,90 520.1,89.7 C516.8,89.3 513.6,88.8 510.5,88.3 C503,87.9 495,87.5 487.1,86.9 C484.5,86.6 482,86.2 480.2,85.5 C477.5,84.2 475.5,81.5 474.8,79 Z" fill="#f5ead8"/>
<path d="M474.7,76.6 C474.5,74.5 476,73.2 478.5,72.5 C481,71.8 483.5,71.2 485.7,69.7 C487.8,67.4 490,65.6 492.6,64.2 C495.5,63 498.7,62.4 502.2,62.2 C505,61.8 507.8,61.5 510.5,61.5 L510.5,88.3 C503,87.9 495,87.5 487.1,86.9 C484.5,86.6 482,86.2 480.2,85.5 C477.5,84.2 475.5,81.5 474.8,79 Z" fill="#f1deb6"/>
<path d="M474.7,76.6 C474.5,74.5 476,73.2 478.5,72.5 C481,71.8 483.5,71.2 485.7,69.7 L487.1,73 C486.5,78 486.8,82.5 487.1,86.9 C484.5,86.6 482,86.2 480.2,85.5 C477.5,84.2 475.5,81.5 474.8,79 Z" fill="#e2bc7e"/>
<path d="M524.2,67.5 C527,65 531.5,65 534.5,67 C537.5,69.3 539.3,73 539.3,77 C539.2,79.5 538.2,81.2 536.5,81.4 C533,80.5 529.5,80.6 526,80.5 C524.5,77 523.8,71 524.2,67.5 Z" fill="#ecd3a6"/>
<path d="M526.5,69.5 q3,2 2,6 M529.5,67.5 q3.5,2.5 3,8 M533,68 q3,3 2.5,8 M525,76 q4,-1 8,2" stroke="#f7efe2" stroke-width="0.7" fill="none"/>
<path d="M513,77 C517,76.8 521,78 523.5,80.5 M515,85 C520,84 526,84.5 532,86.3" stroke="#e4dac8" stroke-width="0.4" fill="none"/>
<line x1="510.5" y1="56" x2="510.5" y2="96" stroke="#b8aea2" stroke-width="0.45"/>
<path d="M509,83.2 C511,81.2 514,79.6 517.6,78.7 C519.2,78.6 519.6,79.8 518.6,81 C516,82.8 513,84 510.2,84.6 C509.2,84.6 508.7,84 509,83.2 Z" fill="#7a6272"/><path d="M514,81.3 C515.5,80.5 517,80 518.2,79.8" stroke="#a08898" stroke-width="0.6" fill="none"/>
<rect x="493" y="85.4" width="15.6" height="3.7" fill="#cfc4b2"/>
<text x="493.4" y="88.5" font-size="2.8" fill="#333" textLength="14.6" lengthAdjust="spacingAndGlyphs">Substantia</text>
<text x="497.4" y="93.1" font-size="2.6" fill="#444" textLength="6.8" lengthAdjust="spacingAndGlyphs">Nigra</text>
<text x="517.3" y="78" font-size="2.8" fill="#4444e0" font-weight="bold" textLength="5.6" lengthAdjust="spacingAndGlyphs">VTA</text>
<path d="M509.8,92.4 h5.5" stroke="#888" stroke-width="0.35" stroke-dasharray="0.8,0.5"/>
<polygon points="517.4,92.4 515.4,91.6 515.4,93.2" fill="#222"/>
</g>
<text x="11.0" y="16.9" font-size="14.20" font-weight="bold" fill="#000" textLength="11.6" lengthAdjust="spacingAndGlyphs" stroke="#000" stroke-width="0.7">A</text>
<line x1="48.5" y1="110.9" x2="518.5" y2="110.9" stroke="#7a7a7a" stroke-width="1.6"/>
<line x1="48.9" y1="107.5" x2="48.9" y2="114.5" stroke="#555" stroke-width="1.1"/>
<line x1="79.3" y1="107.5" x2="79.3" y2="114.5" stroke="#555" stroke-width="1.1"/>
<line x1="123.5" y1="107.5" x2="123.5" y2="114.5" stroke="#555" stroke-width="1.1"/>
<line x1="169.9" y1="107.5" x2="169.9" y2="114.5" stroke="#555" stroke-width="1.1"/>
<line x1="221.6" y1="107.5" x2="221.6" y2="114.5" stroke="#555" stroke-width="1.1"/>
<line x1="300.5" y1="107.5" x2="300.5" y2="114.5" stroke="#555" stroke-width="1.1"/>
<line x1="326.5" y1="107.5" x2="326.5" y2="114.5" stroke="#555" stroke-width="1.1"/>
<line x1="518.5" y1="107.5" x2="518.5" y2="114.5" stroke="#555" stroke-width="1.1"/>
<text x="36.5" y="105.0" font-size="10.70" font-weight="bold" fill="#161616" textLength="21.9" lengthAdjust="spacingAndGlyphs" stroke="#161616" stroke-width="0.2">E0.5</text>
<text x="64.2" y="105.0" font-size="10.70" font-weight="bold" fill="#161616" textLength="35.0" lengthAdjust="spacingAndGlyphs" stroke="#161616" stroke-width="0.2">~E12.0</text>
<text x="107.7" y="105.0" font-size="10.70" font-weight="bold" fill="#161616" textLength="27.5" lengthAdjust="spacingAndGlyphs" stroke="#161616" stroke-width="0.2">E15.0</text>
<text x="144.0" y="105.0" font-size="10.70" font-weight="bold" fill="#161616" textLength="3.3" lengthAdjust="spacingAndGlyphs" stroke="#161616" stroke-width="0.2">-</text>
<text x="156.6" y="105.0" font-size="10.70" font-weight="bold" fill="#161616" textLength="27.8" lengthAdjust="spacingAndGlyphs" stroke="#161616" stroke-width="0.2">E15.5</text>
<text x="202.9" y="104.8" font-size="10.70" font-weight="bold" fill="#22892a" textLength="34.0" lengthAdjust="spacingAndGlyphs" stroke="#22892a" stroke-width="0.2">E15.75</text>
<text x="279.4" y="105.5" font-size="10.70" font-weight="bold" fill="#161616" textLength="27.7" lengthAdjust="spacingAndGlyphs" stroke="#161616" stroke-width="0.2">E18.0</text>
<text x="314.0" y="105.5" font-size="10.70" font-weight="bold" fill="#161616" textLength="3.0" lengthAdjust="spacingAndGlyphs" stroke="#161616" stroke-width="0.2">-</text>
<text x="322.7" y="105.5" font-size="10.70" font-weight="bold" fill="#161616" textLength="12.6" lengthAdjust="spacingAndGlyphs" stroke="#161616" stroke-width="0.2">P7</text>
<text x="369.6" y="91.7" font-size="11.20" font-weight="bold" fill="#22892a" textLength="38.6" lengthAdjust="spacingAndGlyphs" stroke="#22892a" stroke-width="0.2">Illumina</text>
<text x="359.8" y="105.0" font-size="11.20" font-weight="bold" fill="#22892a" textLength="57.2" lengthAdjust="spacingAndGlyphs" stroke="#22892a" stroke-width="0.2">Sequencing</text>
<text x="494.2" y="104.8" font-size="11.00" font-weight="bold" fill="#22892a" textLength="46.1" lengthAdjust="spacingAndGlyphs" stroke="#22892a" stroke-width="0.2">6 months</text>
<text x="34.4" y="129.2" font-size="8.40" fill="#4a4a4a" textLength="29.0" lengthAdjust="spacingAndGlyphs" stroke="#4a4a4a" stroke-width="0.12">9:00 am</text>
<text x="27.2" y="139.6" font-size="8.40" fill="#4a4a4a" textLength="44.3" lengthAdjust="spacingAndGlyphs" stroke="#4a4a4a" stroke-width="0.12">Post-Coitum</text>
<text x="112.9" y="125.3" font-size="8.40" fill="#4a4a4a" textLength="27.5" lengthAdjust="spacingAndGlyphs" stroke="#4a4a4a" stroke-width="0.12">9:00pm</text>
<text x="145.9" y="125.3" font-size="8.40" fill="#4a4a4a" textLength="2.7" lengthAdjust="spacingAndGlyphs" stroke="#4a4a4a" stroke-width="0.12">-</text>
<text x="154.8" y="125.3" font-size="8.40" fill="#4a4a4a" textLength="27.6" lengthAdjust="spacingAndGlyphs" stroke="#4a4a4a" stroke-width="0.12">9:00am</text>
<text x="104.0" y="135.6" font-size="8.40" fill="#4a4a4a" textLength="87.6" lengthAdjust="spacingAndGlyphs" stroke="#4a4a4a" stroke-width="0.12">Rapid loss of K79me1/2</text>
<text x="120.3" y="145.7" font-size="8.40" fill="#4a4a4a" textLength="54.6" lengthAdjust="spacingAndGlyphs" stroke="#4a4a4a" stroke-width="0.12">in TH+ neurons</text>
<text x="199.7" y="125.5" font-size="8.40" fill="#4c9c4c" textLength="44.9" lengthAdjust="spacingAndGlyphs" stroke="#4c9c4c" stroke-width="0.12">2:00-3:00pm</text>
<text x="212.8" y="135.3" font-size="8.40" fill="#4c9c4c" textLength="19.4" lengthAdjust="spacingAndGlyphs" stroke="#4c9c4c" stroke-width="0.12">FACS</text>
<text x="260.0" y="125.2" font-size="8.40" fill="#f03a3a" textLength="104.9" lengthAdjust="spacingAndGlyphs" stroke="#f03a3a" stroke-width="0.12">Rostroventral Developmental</text>
<text x="301.5" y="135.3" font-size="8.40" fill="#f03a3a" textLength="22.7" lengthAdjust="spacingAndGlyphs" stroke="#f03a3a" stroke-width="0.12">defect</text>
<text x="284.4" y="144.6" font-size="8.40" fill="#f03a3a" textLength="55.1" lengthAdjust="spacingAndGlyphs" stroke="#f03a3a" stroke-width="0.12">Dot1l(flox/flox)</text>
<text x="488.5" y="123.0" font-size="8.40" fill="#4c9c4c" textLength="52.7" lengthAdjust="spacingAndGlyphs" stroke="#4c9c4c" stroke-width="0.12">Cryopreserved</text>
<text x="495.7" y="133.3" font-size="8.40" fill="#4c9c4c" textLength="38.3" lengthAdjust="spacingAndGlyphs" stroke="#4c9c4c" stroke-width="0.12">Dissection</text>
<text x="500.8" y="143.6" font-size="8.40" fill="#4c9c4c" textLength="27.7" lengthAdjust="spacingAndGlyphs" stroke="#4c9c4c" stroke-width="0.12">9-11am</text>
<text transform="translate(84.6,153.6) rotate(-90)" font-size="8.4" fill="#4a4a4a" textLength="33.6" lengthAdjust="spacingAndGlyphs">First YFP</text>
<text transform="translate(95.8,157.6) rotate(-90)" font-size="8.4" fill="#4a4a4a" textLength="38.6" lengthAdjust="spacingAndGlyphs">expression</text>
<text x="285.0" y="22.2" font-size="8.20" fill="#2a2a2a" textLength="55.2" lengthAdjust="spacingAndGlyphs" stroke="#2a2a2a" stroke-width="0.12">Paired, pooled</text>
<text x="291.9" y="38.0" font-size="8.20" fill="#2a2a2a" textLength="40.9" lengthAdjust="spacingAndGlyphs" stroke="#2a2a2a" stroke-width="0.12">Dot1l(+/+)</text>
<text x="291.9" y="57.3" font-size="8.20" fill="#2a2a2a" textLength="41.4" lengthAdjust="spacingAndGlyphs" stroke="#2a2a2a" stroke-width="0.12">Dot1l(fl/+)</text>
<text x="291.9" y="75.8" font-size="8.20" fill="#2a2a2a" textLength="40.9" lengthAdjust="spacingAndGlyphs" stroke="#2a2a2a" stroke-width="0.12">Dot1l(fl/fl)</text>
<text x="414.0" y="23.6" font-size="8.20" fill="#2a2a2a" textLength="56.5" lengthAdjust="spacingAndGlyphs" stroke="#2a2a2a" stroke-width="0.12">Paired, pooled</text>
<text x="422.3" y="39.5" font-size="8.20" fill="#2a2a2a" textLength="40.0" lengthAdjust="spacingAndGlyphs" stroke="#2a2a2a" stroke-width="0.12">Dot1l(+/+)</text>
<text x="422.3" y="58.6" font-size="8.20" fill="#2a2a2a" textLength="40.0" lengthAdjust="spacingAndGlyphs" stroke="#2a2a2a" stroke-width="0.12">Dot1l(fl/+)</text>
<text x="417.6" y="77.8" font-size="8.20" fill="#f03a3a" textLength="45.2" lengthAdjust="spacingAndGlyphs" stroke="#f03a3a" stroke-width="0.12">[Dot1l(fl/fl)]</text>
<line x1="274.9" y1="47.4" x2="283.92025324852835" y2="40.12315704320402" stroke="#111" stroke-width="0.9"/>
<polygon points="286.80,37.80 284.98,42.23 282.09,38.65" fill="#111"/>
<line x1="277" y1="54.4" x2="287.90000000000003" y2="54.4" stroke="#111" stroke-width="0.9"/>
<polygon points="291.60,54.40 287.40,56.60 287.40,52.20" fill="#111"/>
<line x1="274.6" y1="61.3" x2="284.0857356233571" y2="68.720293189239" stroke="#111" stroke-width="0.9"/>
<polygon points="287.00,71.00 282.27,70.22 285.11,66.60" fill="#111"/>
<line x1="336" y1="54.5" x2="346.8" y2="54.5" stroke="#111" stroke-width="0.9"/>
<polygon points="350.30,54.50 346.30,56.70 346.30,52.30" fill="#111"/>
<line x1="430.6" y1="47" x2="417.5" y2="47.0" stroke="#111" stroke-width="0.9"/>
<polygon points="414.00,47.00 418.00,44.80 418.00,49.20" fill="#111"/>
<line x1="480" y1="47.5" x2="470.0316495511701" y2="41.749028587213516" stroke="#111" stroke-width="0.9"/>
<polygon points="467.00,40.00 471.56,40.09 469.37,43.90" fill="#111"/>
<line x1="478.6" y1="55.2" x2="467.8" y2="55.2" stroke="#111" stroke-width="0.9"/>
<polygon points="464.30,55.20 468.30,53.00 468.30,57.40" fill="#111"/>
<line x1="478.6" y1="64" x2="471.64806714922355" y2="68.96566632198316" stroke="#111" stroke-width="0.9"/>
<polygon points="468.80,71.00 470.78,66.88 473.33,70.47" fill="#111"/>
<line x1="69.0" y1="77.2" x2="69.0" y2="66.0" stroke="#222" stroke-width="0.8"/>
<polygon points="69.00,62.30 71.20,66.50 66.80,66.50" fill="#222"/>
<line x1="84.0" y1="96.0" x2="77.62025258055402" y2="86.3525770730329" stroke="#222" stroke-width="0.75"/>
<polygon points="75.80,83.60 79.56,85.67 76.23,87.87" fill="#222"/>
<line x1="175.8" y1="95.8" x2="170.09517152967837" y2="86.94250316450068" stroke="#111" stroke-width="0.9"/>
<polygon points="168.20,84.00 172.22,86.17 168.52,88.55" fill="#111"/>
<text transform="translate(122.4,50.4) rotate(-90)" font-size="7.5" font-weight="bold" fill="#111" stroke="#111" stroke-width="0.2" textLength="33.8" lengthAdjust="spacingAndGlyphs">Dot1l(+/+)</text>
<text transform="translate(122.4,90.2) rotate(-90)" font-size="7.5" font-weight="bold" fill="#111" stroke="#111" stroke-width="0.2" textLength="34.6" lengthAdjust="spacingAndGlyphs">Dot1l(fl/fl)</text>
<text transform="translate(169.0,17.6) rotate(90)" font-size="8.8" font-weight="bold" stroke-width="0.15" textLength="62.4" lengthAdjust="spacingAndGlyphs"><tspan fill="#1a2ad0" stroke="#1a2ad0">DAPI</tspan><tspan fill="#2a9a2a" stroke="#2a9a2a">/TH/</tspan><tspan fill="#e01818" stroke="#e01818">K79me2</tspan></text>
<text x="10.4" y="168.1" font-size="14.40" font-weight="bold" fill="#000" textLength="10.1" lengthAdjust="spacingAndGlyphs" stroke="#000" stroke-width="0.7">B</text>
<text x="339.4" y="173.3" font-family="DejaVu Sans" font-size="14.2" font-weight="bold" fill="#111" stroke="#111" stroke-width="0.45" textLength="59" lengthAdjust="spacingAndGlyphs">E15.75</text>
<text x="30.8" y="185.9" font-size="9.00" font-weight="bold" fill="#25258e" textLength="157.2" lengthAdjust="spacingAndGlyphs" stroke="#25258e" stroke-width="0.2">GO: Cell. Comp. UP/DOWN (535 genes)</text>
<text x="219.6" y="185.9" font-size="9.00" font-weight="bold" fill="#22892a" textLength="127.9" lengthAdjust="spacingAndGlyphs" stroke="#22892a" stroke-width="0.2">GO: Cell. Comp. UP (137 genes)</text>
<text x="390.4" y="186.3" font-size="9.00" font-weight="bold" fill="#f02424" textLength="142.3" lengthAdjust="spacingAndGlyphs" stroke="#f02424" stroke-width="0.2">GO: Cell. Comp. DOWN (398 genes)</text>
<line x1="37.5" y1="191.5" x2="180.5" y2="191.5" stroke="#e6e6e6" stroke-width="0.5"/>
<text x="35.4" y="192.8" font-size="4.4" fill="#3a3a3a" stroke="#3a3a3a" stroke-width="0.12" text-anchor="end">1.00E-20</text>
<line x1="37.5" y1="199.9" x2="180.5" y2="199.9" stroke="#e6e6e6" stroke-width="0.5"/>
<text x="35.4" y="201.2" font-size="4.4" fill="#3a3a3a" stroke="#3a3a3a" stroke-width="0.12" text-anchor="end">1.00E-18</text>
<line x1="37.5" y1="208.3" x2="180.5" y2="208.3" stroke="#e6e6e6" stroke-width="0.5"/>
<text x="35.4" y="209.6" font-size="4.4" fill="#3a3a3a" stroke="#3a3a3a" stroke-width="0.12" text-anchor="end">1.00E-16</text>
<line x1="37.5" y1="216.8" x2="180.5" y2="216.8" stroke="#e6e6e6" stroke-width="0.5"/>
<text x="35.4" y="218.1" font-size="4.4" fill="#3a3a3a" stroke="#3a3a3a" stroke-width="0.12" text-anchor="end">1.00E-14</text>
<line x1="37.5" y1="225.2" x2="180.5" y2="225.2" stroke="#e6e6e6" stroke-width="0.5"/>
<text x="35.4" y="226.5" font-size="4.4" fill="#3a3a3a" stroke="#3a3a3a" stroke-width="0.12" text-anchor="end">1.00E-12</text>
<line x1="37.5" y1="233.6" x2="180.5" y2="233.6" stroke="#e6e6e6" stroke-width="0.5"/>
<text x="35.4" y="234.9" font-size="4.4" fill="#3a3a3a" stroke="#3a3a3a" stroke-width="0.12" text-anchor="end">1.00E-10</text>
<line x1="37.5" y1="242.0" x2="180.5" y2="242.0" stroke="#e6e6e6" stroke-width="0.5"/>
<text x="35.4" y="243.3" font-size="4.4" fill="#3a3a3a" stroke="#3a3a3a" stroke-width="0.12" text-anchor="end">1.00E-08</text>
<line x1="37.5" y1="250.4" x2="180.5" y2="250.4" stroke="#e6e6e6" stroke-width="0.5"/>
<text x="35.4" y="251.7" font-size="4.4" fill="#3a3a3a" stroke="#3a3a3a" stroke-width="0.12" text-anchor="end">1.00E-06</text>
<line x1="37.5" y1="258.9" x2="180.5" y2="258.9" stroke="#e6e6e6" stroke-width="0.5"/>
<text x="35.4" y="260.2" font-size="4.4" fill="#3a3a3a" stroke="#3a3a3a" stroke-width="0.12" text-anchor="end">1.00E-04</text>
<line x1="37.5" y1="267.3" x2="180.5" y2="267.3" stroke="#e6e6e6" stroke-width="0.5"/>
<text x="35.4" y="268.6" font-size="4.4" fill="#3a3a3a" stroke="#3a3a3a" stroke-width="0.12" text-anchor="end">1.00E-02</text>
<rect x="37.5" y="191.5" width="143.0" height="81.9" fill="none" stroke="#bdbdbd" stroke-width="0.6"/>
<line x1="37.5" y1="191.5" x2="37.5" y2="273.4" stroke="#999" stroke-width="0.7"/>
<line x1="37.5" y1="273.4" x2="180.5" y2="273.4" stroke="#888" stroke-width="0.8"/>
<line x1="36.3" y1="191.5" x2="37.5" y2="191.5" stroke="#999" stroke-width="0.5"/>
<line x1="36.3" y1="199.9" x2="37.5" y2="199.9" stroke="#999" stroke-width="0.5"/>
<line x1="36.3" y1="208.3" x2="37.5" y2="208.3" stroke="#999" stroke-width="0.5"/>
<line x1="36.3" y1="216.8" x2="37.5" y2="216.8" stroke="#999" stroke-width="0.5"/>
<line x1="36.3" y1="225.2" x2="37.5" y2="225.2" stroke="#999" stroke-width="0.5"/>
<line x1="36.3" y1="233.6" x2="37.5" y2="233.6" stroke="#999" stroke-width="0.5"/>
<line x1="36.3" y1="242.0" x2="37.5" y2="242.0" stroke="#999" stroke-width="0.5"/>
<line x1="36.3" y1="250.4" x2="37.5" y2="250.4" stroke="#999" stroke-width="0.5"/>
<line x1="36.3" y1="258.9" x2="37.5" y2="258.9" stroke="#999" stroke-width="0.5"/>
<line x1="36.3" y1="267.3" x2="37.5" y2="267.3" stroke="#999" stroke-width="0.5"/>
<text transform="translate(16.2,242.7) rotate(-90)" font-size="4.6" fill="#222" textLength="32" lengthAdjust="spacingAndGlyphs">p-value (FDR)</text>
<text x="37.5" y="277.2" font-size="3.6" fill="#333" text-anchor="middle">2</text>
<text x="121.7" y="277.2" font-size="3.6" fill="#333" text-anchor="middle">20</text>
<text x="180.5" y="277.2" font-size="3.6" fill="#333" text-anchor="middle">100</text>
<text x="87.8" y="284.0" font-size="8.70" font-weight="bold" fill="#222" textLength="38.0" lengthAdjust="spacingAndGlyphs" stroke="#222" stroke-width="0.2">Enrichment</text>
<line x1="211.6" y1="191.3" x2="354.6" y2="191.3" stroke="#e6e6e6" stroke-width="0.5"/>
<text x="210.6" y="192.6" font-size="4.4" fill="#3a3a3a" stroke="#3a3a3a" stroke-width="0.12" text-anchor="end">1.00E-20</text>
<line x1="211.6" y1="199.7" x2="354.6" y2="199.7" stroke="#e6e6e6" stroke-width="0.5"/>
<text x="210.6" y="201.0" font-size="4.4" fill="#3a3a3a" stroke="#3a3a3a" stroke-width="0.12" text-anchor="end">1.00E-18</text>
<line x1="211.6" y1="208.1" x2="354.6" y2="208.1" stroke="#e6e6e6" stroke-width="0.5"/>
<text x="210.6" y="209.4" font-size="4.4" fill="#3a3a3a" stroke="#3a3a3a" stroke-width="0.12" text-anchor="end">1.00E-16</text>
<line x1="211.6" y1="216.6" x2="354.6" y2="216.6" stroke="#e6e6e6" stroke-width="0.5"/>
<text x="210.6" y="217.9" font-size="4.4" fill="#3a3a3a" stroke="#3a3a3a" stroke-width="0.12" text-anchor="end">1.00E-14</text>
<line x1="211.6" y1="225.0" x2="354.6" y2="225.0" stroke="#e6e6e6" stroke-width="0.5"/>
<text x="210.6" y="226.3" font-size="4.4" fill="#3a3a3a" stroke="#3a3a3a" stroke-width="0.12" text-anchor="end">1.00E-12</text>
<line x1="211.6" y1="233.4" x2="354.6" y2="233.4" stroke="#e6e6e6" stroke-width="0.5"/>
<text x="210.6" y="234.7" font-size="4.4" fill="#3a3a3a" stroke="#3a3a3a" stroke-width="0.12" text-anchor="end">1.00E-10</text>
<line x1="211.6" y1="241.8" x2="354.6" y2="241.8" stroke="#e6e6e6" stroke-width="0.5"/>
<text x="210.6" y="243.1" font-size="4.4" fill="#3a3a3a" stroke="#3a3a3a" stroke-width="0.12" text-anchor="end">1.00E-08</text>
<line x1="211.6" y1="250.2" x2="354.6" y2="250.2" stroke="#e6e6e6" stroke-width="0.5"/>
<text x="210.6" y="251.5" font-size="4.4" fill="#3a3a3a" stroke="#3a3a3a" stroke-width="0.12" text-anchor="end">1.00E-06</text>
<line x1="211.6" y1="258.7" x2="354.6" y2="258.7" stroke="#e6e6e6" stroke-width="0.5"/>
<text x="210.6" y="260.0" font-size="4.4" fill="#3a3a3a" stroke="#3a3a3a" stroke-width="0.12" text-anchor="end">1.00E-04</text>
<line x1="211.6" y1="267.1" x2="354.6" y2="267.1" stroke="#e6e6e6" stroke-width="0.5"/>
<text x="210.6" y="268.4" font-size="4.4" fill="#3a3a3a" stroke="#3a3a3a" stroke-width="0.12" text-anchor="end">1.00E-02</text>
<rect x="211.6" y="191.3" width="143.0" height="82.2" fill="none" stroke="#bdbdbd" stroke-width="0.6"/>
<line x1="211.6" y1="191.3" x2="211.6" y2="273.5" stroke="#999" stroke-width="0.7"/>
<line x1="211.6" y1="273.5" x2="354.6" y2="273.5" stroke="#888" stroke-width="0.8"/>
<line x1="210.4" y1="191.3" x2="211.6" y2="191.3" stroke="#999" stroke-width="0.5"/>
<line x1="210.4" y1="199.7" x2="211.6" y2="199.7" stroke="#999" stroke-width="0.5"/>
<line x1="210.4" y1="208.1" x2="211.6" y2="208.1" stroke="#999" stroke-width="0.5"/>
<line x1="210.4" y1="216.6" x2="211.6" y2="216.6" stroke="#999" stroke-width="0.5"/>
<line x1="210.4" y1="225.0" x2="211.6" y2="225.0" stroke="#999" stroke-width="0.5"/>
<line x1="210.4" y1="233.4" x2="211.6" y2="233.4" stroke="#999" stroke-width="0.5"/>
<line x1="210.4" y1="241.8" x2="211.6" y2="241.8" stroke="#999" stroke-width="0.5"/>
<line x1="210.4" y1="250.2" x2="211.6" y2="250.2" stroke="#999" stroke-width="0.5"/>
<line x1="210.4" y1="258.7" x2="211.6" y2="258.7" stroke="#999" stroke-width="0.5"/>
<line x1="210.4" y1="267.1" x2="211.6" y2="267.1" stroke="#999" stroke-width="0.5"/>
<text transform="translate(190.9,243.0) rotate(-90)" font-size="4.6" fill="#222" textLength="32" lengthAdjust="spacingAndGlyphs">p-value (FDR)</text>
<text x="211.6" y="277.3" font-size="3.6" fill="#333" text-anchor="middle">1</text>
<text x="295.8" y="277.3" font-size="3.6" fill="#333" text-anchor="middle">20</text>
<text x="354.6" y="277.3" font-size="3.6" fill="#333" text-anchor="middle">100</text>
<text x="261.7" y="284.1" font-size="8.70" font-weight="bold" fill="#222" textLength="38.3" lengthAdjust="spacingAndGlyphs" stroke="#222" stroke-width="0.2">Enrichment</text>
<line x1="387.5" y1="191.7" x2="529.6" y2="191.7" stroke="#e6e6e6" stroke-width="0.5"/>
<text x="385.9" y="193.0" font-size="4.4" fill="#3a3a3a" stroke="#3a3a3a" stroke-width="0.12" text-anchor="end">1.00E-20</text>
<line x1="387.5" y1="200.1" x2="529.6" y2="200.1" stroke="#e6e6e6" stroke-width="0.5"/>
<text x="385.9" y="201.4" font-size="4.4" fill="#3a3a3a" stroke="#3a3a3a" stroke-width="0.12" text-anchor="end">1.00E-18</text>
<line x1="387.5" y1="208.5" x2="529.6" y2="208.5" stroke="#e6e6e6" stroke-width="0.5"/>
<text x="385.9" y="209.8" font-size="4.4" fill="#3a3a3a" stroke="#3a3a3a" stroke-width="0.12" text-anchor="end">1.00E-16</text>
<line x1="387.5" y1="217.0" x2="529.6" y2="217.0" stroke="#e6e6e6" stroke-width="0.5"/>
<text x="385.9" y="218.3" font-size="4.4" fill="#3a3a3a" stroke="#3a3a3a" stroke-width="0.12" text-anchor="end">1.00E-14</text>
<line x1="387.5" y1="225.4" x2="529.6" y2="225.4" stroke="#e6e6e6" stroke-width="0.5"/>
<text x="385.9" y="226.7" font-size="4.4" fill="#3a3a3a" stroke="#3a3a3a" stroke-width="0.12" text-anchor="end">1.00E-12</text>
<line x1="387.5" y1="233.8" x2="529.6" y2="233.8" stroke="#e6e6e6" stroke-width="0.5"/>
<text x="385.9" y="235.1" font-size="4.4" fill="#3a3a3a" stroke="#3a3a3a" stroke-width="0.12" text-anchor="end">1.00E-10</text>
<line x1="387.5" y1="242.2" x2="529.6" y2="242.2" stroke="#e6e6e6" stroke-width="0.5"/>
<text x="385.9" y="243.5" font-size="4.4" fill="#3a3a3a" stroke="#3a3a3a" stroke-width="0.12" text-anchor="end">1.00E-08</text>
<line x1="387.5" y1="250.6" x2="529.6" y2="250.6" stroke="#e6e6e6" stroke-width="0.5"/>
<text x="385.9" y="251.9" font-size="4.4" fill="#3a3a3a" stroke="#3a3a3a" stroke-width="0.12" text-anchor="end">1.00E-06</text>
<line x1="387.5" y1="259.1" x2="529.6" y2="259.1" stroke="#e6e6e6" stroke-width="0.5"/>
<text x="385.9" y="260.4" font-size="4.4" fill="#3a3a3a" stroke="#3a3a3a" stroke-width="0.12" text-anchor="end">1.00E-04</text>
<line x1="387.5" y1="267.5" x2="529.6" y2="267.5" stroke="#e6e6e6" stroke-width="0.5"/>
<text x="385.9" y="268.8" font-size="4.4" fill="#3a3a3a" stroke="#3a3a3a" stroke-width="0.12" text-anchor="end">1.00E-02</text>
<rect x="387.5" y="191.7" width="142.1" height="82.6" fill="none" stroke="#bdbdbd" stroke-width="0.6"/>
<line x1="387.5" y1="191.7" x2="387.5" y2="274.3" stroke="#999" stroke-width="0.7"/>
<line x1="387.5" y1="274.3" x2="529.6" y2="274.3" stroke="#888" stroke-width="0.8"/>
<line x1="386.3" y1="191.7" x2="387.5" y2="191.7" stroke="#999" stroke-width="0.5"/>
<line x1="386.3" y1="200.1" x2="387.5" y2="200.1" stroke="#999" stroke-width="0.5"/>
<line x1="386.3" y1="208.5" x2="387.5" y2="208.5" stroke="#999" stroke-width="0.5"/>
<line x1="386.3" y1="217.0" x2="387.5" y2="217.0" stroke="#999" stroke-width="0.5"/>
<line x1="386.3" y1="225.4" x2="387.5" y2="225.4" stroke="#999" stroke-width="0.5"/>
<line x1="386.3" y1="233.8" x2="387.5" y2="233.8" stroke="#999" stroke-width="0.5"/>
<line x1="386.3" y1="242.2" x2="387.5" y2="242.2" stroke="#999" stroke-width="0.5"/>
<line x1="386.3" y1="250.6" x2="387.5" y2="250.6" stroke="#999" stroke-width="0.5"/>
<line x1="386.3" y1="259.1" x2="387.5" y2="259.1" stroke="#999" stroke-width="0.5"/>
<line x1="386.3" y1="267.5" x2="387.5" y2="267.5" stroke="#999" stroke-width="0.5"/>
<text transform="translate(364.4,243.0) rotate(-90)" font-size="4.6" fill="#222" textLength="32" lengthAdjust="spacingAndGlyphs">p-value (FDR)</text>
<text x="387.5" y="278.1" font-size="3.6" fill="#333" text-anchor="middle">2</text>
<text x="471.1" y="278.1" font-size="3.6" fill="#333" text-anchor="middle">20</text>
<text x="529.6" y="278.1" font-size="3.6" fill="#333" text-anchor="middle">100</text>
<text x="439.0" y="284.9" font-size="8.70" font-weight="bold" fill="#222" textLength="38.5" lengthAdjust="spacingAndGlyphs" stroke="#222" stroke-width="0.2">Enrichment</text>
<ellipse cx="56.2" cy="201.8" rx="1.5" ry="1.2" fill="#bb2a2e"/>
<ellipse cx="55.2" cy="205.5" rx="1.5" ry="1.2" fill="#bb2a2e"/>
<ellipse cx="59.5" cy="213.6" rx="1.5" ry="1.2" fill="#bb2a2e"/>
<ellipse cx="55.8" cy="218.7" rx="1.5" ry="1.2" fill="#bb2a2e"/>
<ellipse cx="59.3" cy="217.9" rx="1.5" ry="1.2" fill="#bb2a2e"/>
<ellipse cx="58.9" cy="233.0" rx="1.5" ry="1.2" fill="#bb2a2e"/>
<ellipse cx="52.2" cy="237.0" rx="1.5" ry="1.2" fill="#bb2a2e"/>
<ellipse cx="57.0" cy="241.9" rx="1.5" ry="1.2" fill="#bb2a2e"/>
<ellipse cx="59.1" cy="245.3" rx="1.5" ry="1.2" fill="#bb2a2e"/>
<ellipse cx="59.1" cy="247.0" rx="1.5" ry="1.2" fill="#bb2a2e"/>
<ellipse cx="64.6" cy="245.3" rx="1.5" ry="1.2" fill="#bb2a2e"/>
<ellipse cx="65.6" cy="244.8" rx="1.5" ry="1.2" fill="#bb2a2e"/>
<ellipse cx="66.0" cy="251.3" rx="1.5" ry="1.2" fill="#bb2a2e"/>
<ellipse cx="51.7" cy="256.5" rx="1.5" ry="1.2" fill="#bb2a2e"/>
<ellipse cx="56.3" cy="257.4" rx="1.5" ry="1.2" fill="#bb2a2e"/>
<ellipse cx="61.7" cy="258.0" rx="1.5" ry="1.2" fill="#bb2a2e"/>
<ellipse cx="51.7" cy="264.9" rx="1.5" ry="1.2" fill="#bb2a2e"/>
<ellipse cx="55.3" cy="262.5" rx="1.5" ry="1.2" fill="#bb2a2e"/>
<ellipse cx="58.2" cy="261.1" rx="1.5" ry="1.2" fill="#bb2a2e"/>
<ellipse cx="70.6" cy="262.9" rx="1.5" ry="1.2" fill="#bb2a2e"/>
<ellipse cx="70.6" cy="264.2" rx="1.5" ry="1.2" fill="#bb2a2e"/>
<ellipse cx="78.4" cy="263.2" rx="1.5" ry="1.2" fill="#bb2a2e"/>
<ellipse cx="78.4" cy="264.9" rx="1.5" ry="1.2" fill="#bb2a2e"/>
<ellipse cx="99.6" cy="261.7" rx="1.5" ry="1.2" fill="#bb2a2e"/>
<ellipse cx="101.0" cy="261.7" rx="1.5" ry="1.2" fill="#bb2a2e"/>
<ellipse cx="111.8" cy="265.1" rx="1.5" ry="1.2" fill="#bb2a2e"/>
<ellipse cx="113.7" cy="261.7" rx="1.5" ry="1.2" fill="#bb2a2e"/>
<ellipse cx="140.5" cy="261.2" rx="1.5" ry="1.2" fill="#bb2a2e"/>
<ellipse cx="228.0" cy="245.6" rx="1.5" ry="1.2" fill="#bb2a2e"/>
<ellipse cx="226.1" cy="250.4" rx="1.5" ry="1.2" fill="#bb2a2e"/>
<ellipse cx="233.1" cy="251.1" rx="1.5" ry="1.2" fill="#bb2a2e"/>
<ellipse cx="231.9" cy="254.0" rx="1.5" ry="1.2" fill="#bb2a2e"/>
<ellipse cx="234.5" cy="255.7" rx="1.5" ry="1.2" fill="#bb2a2e"/>
<ellipse cx="241.8" cy="245.3" rx="1.5" ry="1.2" fill="#bb2a2e"/>
<ellipse cx="245.9" cy="246.4" rx="1.5" ry="1.2" fill="#bb2a2e"/>
<ellipse cx="242.5" cy="253.3" rx="1.5" ry="1.2" fill="#bb2a2e"/>
<ellipse cx="251.0" cy="247.9" rx="1.5" ry="1.2" fill="#bb2a2e"/>
<ellipse cx="254.9" cy="245.6" rx="1.5" ry="1.2" fill="#bb2a2e"/>
<ellipse cx="259.6" cy="250.8" rx="1.5" ry="1.2" fill="#bb2a2e"/>
<ellipse cx="259.6" cy="252.8" rx="1.5" ry="1.2" fill="#bb2a2e"/>
<ellipse cx="261.5" cy="256.0" rx="1.5" ry="1.2" fill="#bb2a2e"/>
<ellipse cx="266.3" cy="245.3" rx="1.5" ry="1.2" fill="#bb2a2e"/>
<ellipse cx="265.8" cy="249.6" rx="1.5" ry="1.2" fill="#bb2a2e"/>
<ellipse cx="270.9" cy="245.3" rx="1.5" ry="1.2" fill="#bb2a2e"/>
<ellipse cx="269.5" cy="255.2" rx="1.5" ry="1.2" fill="#bb2a2e"/>
<ellipse cx="231.9" cy="264.5" rx="1.5" ry="1.2" fill="#bb2a2e"/>
<ellipse cx="268.7" cy="265.6" rx="1.5" ry="1.2" fill="#bb2a2e"/>
<ellipse cx="272.1" cy="265.1" rx="1.5" ry="1.2" fill="#bb2a2e"/>
<ellipse cx="282.3" cy="245.0" rx="1.5" ry="1.2" fill="#bb2a2e"/>
<ellipse cx="282.5" cy="256.2" rx="1.5" ry="1.2" fill="#bb2a2e"/>
<ellipse cx="284.7" cy="255.7" rx="1.5" ry="1.2" fill="#bb2a2e"/>
<ellipse cx="291.6" cy="256.9" rx="1.5" ry="1.2" fill="#bb2a2e"/>
<ellipse cx="302.5" cy="250.9" rx="1.5" ry="1.2" fill="#bb2a2e"/>
<ellipse cx="323.4" cy="249.2" rx="1.5" ry="1.2" fill="#bb2a2e"/>
<ellipse cx="325.3" cy="249.2" rx="1.5" ry="1.2" fill="#bb2a2e"/>
<ellipse cx="338.1" cy="251.4" rx="1.5" ry="1.2" fill="#bb2a2e"/>
<ellipse cx="354.2" cy="254.5" rx="1.5" ry="1.2" fill="#bb2a2e"/>
<ellipse cx="402.6" cy="196.6" rx="1.5" ry="1.2" fill="#bb2a2e"/>
<ellipse cx="404.5" cy="203.6" rx="1.5" ry="1.2" fill="#bb2a2e"/>
<ellipse cx="410.1" cy="207.4" rx="1.5" ry="1.2" fill="#bb2a2e"/>
<ellipse cx="409.2" cy="210.8" rx="1.5" ry="1.2" fill="#bb2a2e"/>
<ellipse cx="413.4" cy="218.0" rx="1.5" ry="1.2" fill="#bb2a2e"/>
<ellipse cx="409.2" cy="224.4" rx="1.5" ry="1.2" fill="#bb2a2e"/>
<ellipse cx="414.9" cy="230.7" rx="1.5" ry="1.2" fill="#bb2a2e"/>
<ellipse cx="422.4" cy="241.5" rx="1.5" ry="1.2" fill="#bb2a2e"/>
<ellipse cx="421.9" cy="242.4" rx="1.5" ry="1.2" fill="#bb2a2e"/>
<ellipse cx="404.1" cy="240.7" rx="1.5" ry="1.2" fill="#bb2a2e"/>
<ellipse cx="406.4" cy="239.6" rx="1.5" ry="1.2" fill="#bb2a2e"/>
<ellipse cx="408.6" cy="249.6" rx="1.5" ry="1.2" fill="#bb2a2e"/>
<ellipse cx="411.5" cy="250.5" rx="1.5" ry="1.2" fill="#bb2a2e"/>
<ellipse cx="413.0" cy="250.1" rx="1.5" ry="1.2" fill="#bb2a2e"/>
<ellipse cx="408.6" cy="254.9" rx="1.5" ry="1.2" fill="#bb2a2e"/>
<ellipse cx="409.6" cy="260.5" rx="1.5" ry="1.2" fill="#bb2a2e"/>
<ellipse cx="415.2" cy="259.4" rx="1.5" ry="1.2" fill="#bb2a2e"/>
<ellipse cx="416.8" cy="259.0" rx="1.5" ry="1.2" fill="#bb2a2e"/>
<ellipse cx="418.0" cy="258.6" rx="1.5" ry="1.2" fill="#bb2a2e"/>
<ellipse cx="431.3" cy="259.6" rx="1.5" ry="1.2" fill="#bb2a2e"/>
<ellipse cx="426.2" cy="265.3" rx="1.5" ry="1.2" fill="#bb2a2e"/>
<ellipse cx="426.6" cy="266.6" rx="1.5" ry="1.2" fill="#bb2a2e"/>
<ellipse cx="433.8" cy="264.7" rx="1.5" ry="1.2" fill="#bb2a2e"/>
<ellipse cx="435.1" cy="264.7" rx="1.5" ry="1.2" fill="#bb2a2e"/>
<ellipse cx="450.3" cy="265.5" rx="1.5" ry="1.2" fill="#bb2a2e"/>
<ellipse cx="454.9" cy="264.7" rx="1.5" ry="1.2" fill="#bb2a2e"/>
<ellipse cx="472.2" cy="264.7" rx="1.5" ry="1.2" fill="#bb2a2e"/>
<text x="55.6" y="201.3" font-size="7.00" fill="#555" textLength="21.0" lengthAdjust="spacingAndGlyphs" stroke="#555" stroke-width="0.18">Synaps</text>
<text x="58.7" y="213.0" font-size="7.00" fill="#555" textLength="24.7" lengthAdjust="spacingAndGlyphs" stroke="#555" stroke-width="0.18">Dendrite</text>
<text x="58.3" y="222.8" font-size="7.00" fill="#555" textLength="14.8" lengthAdjust="spacingAndGlyphs" stroke="#555" stroke-width="0.18">Axon</text>
<text x="85.1" y="217.3" font-size="7.00" fill="#555" textLength="30.1" lengthAdjust="spacingAndGlyphs" stroke="#555" stroke-width="0.18">Glutamate</text>
<text x="85.1" y="225.1" font-size="7.00" fill="#555" textLength="25.9" lengthAdjust="spacingAndGlyphs" stroke="#555" stroke-width="0.18">Receptor</text>
<text x="85.1" y="233.0" font-size="7.00" fill="#555" textLength="25.5" lengthAdjust="spacingAndGlyphs" stroke="#555" stroke-width="0.18">Complex</text>
<text x="59.4" y="242.6" font-size="7.00" fill="#555" textLength="35.7" lengthAdjust="spacingAndGlyphs" stroke="#555" stroke-width="0.18">Post-Synaps</text>
<text x="63.7" y="256.3" font-size="7.00" fill="#555" textLength="36.9" lengthAdjust="spacingAndGlyphs" stroke="#555" stroke-width="0.18">Growth cone</text>
<text x="139.7" y="226.2" font-size="7.00" fill="#555" textLength="40.0" lengthAdjust="spacingAndGlyphs" stroke="#555" stroke-width="0.18">Mitochondrial</text>
<text x="139.7" y="233.6" font-size="7.00" fill="#555" textLength="29.3" lengthAdjust="spacingAndGlyphs" stroke="#555" stroke-width="0.18">Complex I</text>
<text x="139.7" y="242.0" font-size="7.00" fill="#555" textLength="27.6" lengthAdjust="spacingAndGlyphs" stroke="#555" stroke-width="0.18">Catalictic</text>
<text x="139.7" y="250.2" font-size="7.00" fill="#555" textLength="22.9" lengthAdjust="spacingAndGlyphs" stroke="#555" stroke-width="0.18">Domain</text>
<text x="104.0" y="242.5" font-size="5.20" fill="#777" textLength="24.1" lengthAdjust="spacingAndGlyphs" stroke="#777" stroke-width="0.18">b-Cat/TCF</text>
<text x="106.4" y="249.0" font-size="5.20" fill="#777" textLength="20.5" lengthAdjust="spacingAndGlyphs" stroke="#777" stroke-width="0.18">Complex</text>
<line x1="101.4" y1="235.5" x2="101.4" y2="260.3" stroke="#333" stroke-width="0.55"/>
<line x1="111.8" y1="250" x2="111.8" y2="263.9" stroke="#444" stroke-width="0.5"/>
<line x1="138.9" y1="245.8" x2="114.9" y2="261.5" stroke="#444" stroke-width="0.5"/>
<line x1="143.1" y1="253" x2="141.3" y2="259.7" stroke="#444" stroke-width="0.5"/>
<text x="218.8" y="237.9" font-size="7.00" fill="#555" textLength="42.3" lengthAdjust="spacingAndGlyphs" stroke="#555" stroke-width="0.18">Mitochondrion</text>
<line x1="230.2" y1="239.5" x2="228.7" y2="243.1" stroke="#444" stroke-width="0.5"/>
<text x="239.4" y="263.0" font-size="7.00" fill="#555" textLength="19.4" lengthAdjust="spacingAndGlyphs" stroke="#555" stroke-width="0.18">Myelin</text>
<text x="238.8" y="272.1" font-size="7.00" fill="#555" textLength="20.4" lengthAdjust="spacingAndGlyphs" stroke="#555" stroke-width="0.18">Sheath</text>
<line x1="257.1" y1="259.8" x2="260.7" y2="256.2" stroke="#444" stroke-width="0.5"/>
<text x="276.5" y="228.0" font-size="7.00" fill="#555" textLength="19.7" lengthAdjust="spacingAndGlyphs" stroke="#555" stroke-width="0.18">Mitoch.</text>
<text x="279.8" y="235.3" font-size="7.00" fill="#555" textLength="13.3" lengthAdjust="spacingAndGlyphs" stroke="#555" stroke-width="0.18">Inner</text>
<text x="272.2" y="242.5" font-size="7.00" fill="#555" textLength="28.8" lengthAdjust="spacingAndGlyphs" stroke="#555" stroke-width="0.18">Membrane</text>
<text x="305.8" y="223.2" font-size="5.90" fill="#555" textLength="33.7" lengthAdjust="spacingAndGlyphs" stroke="#555" stroke-width="0.18">Mitochondrial</text>
<text x="305.8" y="229.9" font-size="5.90" fill="#555" textLength="48.1" lengthAdjust="spacingAndGlyphs" stroke="#555" stroke-width="0.18">Proton Transporting</text>
<text x="305.8" y="236.4" font-size="5.90" fill="#555" textLength="33.4" lengthAdjust="spacingAndGlyphs" stroke="#555" stroke-width="0.18">ATP Synthase</text>
<text x="305.8" y="243.1" font-size="5.90" fill="#555" textLength="21.4" lengthAdjust="spacingAndGlyphs" stroke="#555" stroke-width="0.18">Complex</text>
<line x1="302.5" y1="246.6" x2="354.2" y2="246.6" stroke="#444" stroke-width="0.6"/>
<line x1="302.5" y1="246.6" x2="302.5" y2="250" stroke="#444" stroke-width="0.6"/>
<line x1="354.2" y1="246.6" x2="354.2" y2="250" stroke="#444" stroke-width="0.6"/>
<text x="296.8" y="263.4" font-size="5.90" fill="#555" textLength="29.2" lengthAdjust="spacingAndGlyphs" stroke="#555" stroke-width="0.18">Small Ribos.</text>
<text x="296.8" y="270.2" font-size="5.90" fill="#555" textLength="18.4" lengthAdjust="spacingAndGlyphs" stroke="#555" stroke-width="0.18">Subunit</text>
<line x1="292.7" y1="257.6" x2="295.6" y2="259.1" stroke="#444" stroke-width="0.5"/>
<text x="338.4" y="260.5" font-size="5.90" fill="#555" textLength="16.0" lengthAdjust="spacingAndGlyphs" stroke="#555" stroke-width="0.18">(&gt;100)</text>
<text x="282.0" y="262.7" font-size="3.60" fill="#555" textLength="4.8" lengthAdjust="spacingAndGlyphs" stroke="#555" stroke-width="0.18">ER</text>
<text x="277.0" y="268.5" font-size="5.60" fill="#555" textLength="14.5" lengthAdjust="spacingAndGlyphs" stroke="#555" stroke-width="0.18">lumen</text>
<text x="404.6" y="197.4" font-size="5.90" fill="#555" textLength="28.5" lengthAdjust="spacingAndGlyphs" stroke="#555" stroke-width="0.18">Neuron part</text>
<text x="406.5" y="204.4" font-size="5.90" fill="#555" textLength="43.2" lengthAdjust="spacingAndGlyphs" stroke="#555" stroke-width="0.18">Neuron projection</text>
<text x="412.8" y="208.7" font-size="5.90" fill="#555" textLength="17.0" lengthAdjust="spacingAndGlyphs" stroke="#555" stroke-width="0.18">Synaps</text>
<text x="414.7" y="216.0" font-size="5.90" fill="#555" textLength="12.3" lengthAdjust="spacingAndGlyphs" stroke="#555" stroke-width="0.18">Axon</text>
<text x="415.2" y="223.1" font-size="5.90" fill="#555" textLength="20.7" lengthAdjust="spacingAndGlyphs" stroke="#555" stroke-width="0.18">Dendrite</text>
<text x="419.0" y="232.0" font-size="5.90" fill="#555" textLength="28.8" lengthAdjust="spacingAndGlyphs" stroke="#555" stroke-width="0.18">PostSynaps</text>
<text x="419.0" y="239.0" font-size="5.90" fill="#555" textLength="18.2" lengthAdjust="spacingAndGlyphs" stroke="#555" stroke-width="0.18">Density</text>
<text x="455.8" y="220.4" font-size="5.90" fill="#555" textLength="24.3" lengthAdjust="spacingAndGlyphs" stroke="#555" stroke-width="0.18">Ionotropic</text>
<text x="455.8" y="227.6" font-size="5.90" fill="#555" textLength="24.3" lengthAdjust="spacingAndGlyphs" stroke="#555" stroke-width="0.18">Glutamate</text>
<text x="455.8" y="233.6" font-size="5.90" fill="#555" textLength="21.7" lengthAdjust="spacingAndGlyphs" stroke="#555" stroke-width="0.18">Receptor</text>
<text x="455.8" y="240.4" font-size="5.90" fill="#555" textLength="20.2" lengthAdjust="spacingAndGlyphs" stroke="#555" stroke-width="0.18">Complex</text>
<text x="457.3" y="252.8" font-size="5.90" fill="#555" textLength="22.8" lengthAdjust="spacingAndGlyphs" stroke="#555" stroke-width="0.18">Inhibitory</text>
<text x="457.3" y="259.0" font-size="5.90" fill="#555" textLength="20.9" lengthAdjust="spacingAndGlyphs" stroke="#555" stroke-width="0.18">Synapse</text>
<text x="474.0" y="267.0" font-size="5.90" fill="#555" textLength="24.9" lengthAdjust="spacingAndGlyphs" stroke="#555" stroke-width="0.18">b-Cat-TCF</text>
<text x="474.5" y="272.6" font-size="5.90" fill="#555" textLength="21.0" lengthAdjust="spacingAndGlyphs" stroke="#555" stroke-width="0.18">complex</text>
<line x1="452" y1="265" x2="455.9" y2="241.5" stroke="#444" stroke-width="0.5"/>
<line x1="456.5" y1="262.8" x2="458.7" y2="259.2" stroke="#444" stroke-width="0.5"/>
</svg></body></html>
